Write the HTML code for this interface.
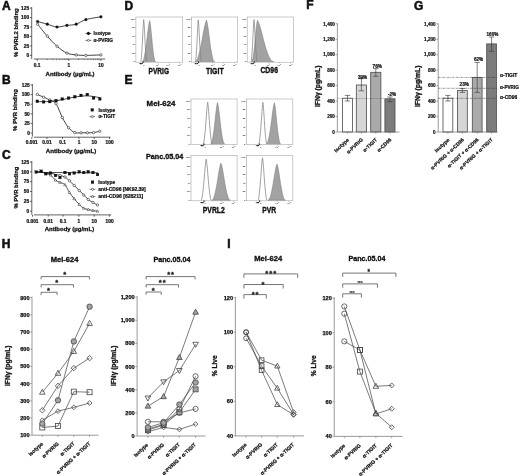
<!DOCTYPE html>
<html lang="en">
<head>
<meta charset="utf-8">
<title>Figure</title>
<style>
html,body{margin:0;padding:0;background:#fff;}
body{width:520px;height:476px;overflow:hidden;}
svg{display:block;font-family:'Liberation Sans', sans-serif;}
</style>
</head>
<body>
<svg width="520" height="476" viewBox="0 0 520 476">
<rect x="0" y="0" width="520" height="476" fill="#ffffff"/>
<text x="2.1" y="9.7" font-size="12" text-anchor="start" font-weight="bold" fill="#111" stroke="#111" stroke-width="0.55">A</text>
<text x="2.1" y="84.2" font-size="12" text-anchor="start" font-weight="bold" fill="#111" stroke="#111" stroke-width="0.55">B</text>
<text x="2" y="158.8" font-size="12" text-anchor="start" font-weight="bold" fill="#111" stroke="#111" stroke-width="0.55">C</text>
<text x="124.4" y="9.6" font-size="12" text-anchor="start" font-weight="bold" fill="#111" stroke="#111" stroke-width="0.55">D</text>
<text x="124.6" y="83.9" font-size="12" text-anchor="start" font-weight="bold" fill="#111" stroke="#111" stroke-width="0.55">E</text>
<text x="306.2" y="9.4" font-size="12" text-anchor="start" font-weight="bold" fill="#111" stroke="#111" stroke-width="0.55">F</text>
<text x="414.1" y="10.1" font-size="12" text-anchor="start" font-weight="bold" fill="#111" stroke="#111" stroke-width="0.55">G</text>
<text x="1.7" y="247.8" font-size="12" text-anchor="start" font-weight="bold" fill="#111" stroke="#111" stroke-width="0.55">H</text>
<text x="227.2" y="247.8" font-size="12" text-anchor="start" font-weight="bold" fill="#111" stroke="#111" stroke-width="0.55">I</text>
<line x1="31.7" y1="7.1" x2="31.7" y2="59" stroke="#222" stroke-width="0.7"/>
<line x1="29.9" y1="55.4" x2="31.7" y2="55.4" stroke="#222" stroke-width="0.7"/>
<text x="29.1" y="57.1" font-size="4.8" text-anchor="end" font-weight="bold" fill="#111" stroke="#111" stroke-width="0.22">0</text>
<line x1="29.9" y1="45.94" x2="31.7" y2="45.94" stroke="#222" stroke-width="0.7"/>
<text x="29.1" y="47.64" font-size="4.8" text-anchor="end" font-weight="bold" fill="#111" stroke="#111" stroke-width="0.22">25</text>
<line x1="29.9" y1="36.48" x2="31.7" y2="36.48" stroke="#222" stroke-width="0.7"/>
<text x="29.1" y="38.18" font-size="4.8" text-anchor="end" font-weight="bold" fill="#111" stroke="#111" stroke-width="0.22">50</text>
<line x1="29.9" y1="27.02" x2="31.7" y2="27.02" stroke="#222" stroke-width="0.7"/>
<text x="29.1" y="28.72" font-size="4.8" text-anchor="end" font-weight="bold" fill="#111" stroke="#111" stroke-width="0.22">75</text>
<line x1="29.9" y1="17.56" x2="31.7" y2="17.56" stroke="#222" stroke-width="0.7"/>
<text x="29.1" y="19.26" font-size="4.8" text-anchor="end" font-weight="bold" fill="#111" stroke="#111" stroke-width="0.22">100</text>
<line x1="29.9" y1="8.1" x2="31.7" y2="8.1" stroke="#222" stroke-width="0.7"/>
<text x="29.1" y="9.8" font-size="4.8" text-anchor="end" font-weight="bold" fill="#111" stroke="#111" stroke-width="0.22">125</text>
<line x1="33.8" y1="59" x2="105.2" y2="59" stroke="#222" stroke-width="0.7"/>
<line x1="37.2" y1="59" x2="37.2" y2="60.8" stroke="#222" stroke-width="0.7"/>
<text x="37.2" y="66.9" font-size="4.8" text-anchor="middle" font-weight="bold" fill="#111" stroke="#111" stroke-width="0.22">0.1</text>
<line x1="68.9" y1="59" x2="68.9" y2="60.8" stroke="#222" stroke-width="0.7"/>
<text x="68.9" y="66.9" font-size="4.8" text-anchor="middle" font-weight="bold" fill="#111" stroke="#111" stroke-width="0.22">1</text>
<line x1="100.9" y1="59" x2="100.9" y2="60.8" stroke="#222" stroke-width="0.7"/>
<text x="100.9" y="66.9" font-size="4.8" text-anchor="middle" font-weight="bold" fill="#111" stroke="#111" stroke-width="0.22">10</text>
<text x="70.1" y="75.7" font-size="6.1" text-anchor="middle" font-weight="bold" fill="#111" stroke="#111" stroke-width="0.27" textLength="49" lengthAdjust="spacingAndGlyphs">Antibody (µg/mL)</text>
<text x="17.7" y="32.75" font-size="5.9" text-anchor="middle" font-weight="bold" fill="#111" stroke="#111" stroke-width="0.27" transform="rotate(-90 17.7 32.75)">% PVRL2 binding</text>
<line x1="47.11" y1="59" x2="47.11" y2="60.1" stroke="#222" stroke-width="0.5"/>
<line x1="52.68" y1="59" x2="52.68" y2="60.1" stroke="#222" stroke-width="0.5"/>
<line x1="56.63" y1="59" x2="56.63" y2="60.1" stroke="#222" stroke-width="0.5"/>
<line x1="59.69" y1="59" x2="59.69" y2="60.1" stroke="#222" stroke-width="0.5"/>
<line x1="62.19" y1="59" x2="62.19" y2="60.1" stroke="#222" stroke-width="0.5"/>
<line x1="64.31" y1="59" x2="64.31" y2="60.1" stroke="#222" stroke-width="0.5"/>
<line x1="66.14" y1="59" x2="66.14" y2="60.1" stroke="#222" stroke-width="0.5"/>
<line x1="67.75" y1="59" x2="67.75" y2="60.1" stroke="#222" stroke-width="0.5"/>
<line x1="78.41" y1="59" x2="78.41" y2="60.1" stroke="#222" stroke-width="0.5"/>
<line x1="83.98" y1="59" x2="83.98" y2="60.1" stroke="#222" stroke-width="0.5"/>
<line x1="87.93" y1="59" x2="87.93" y2="60.1" stroke="#222" stroke-width="0.5"/>
<line x1="90.99" y1="59" x2="90.99" y2="60.1" stroke="#222" stroke-width="0.5"/>
<line x1="93.49" y1="59" x2="93.49" y2="60.1" stroke="#222" stroke-width="0.5"/>
<line x1="95.61" y1="59" x2="95.61" y2="60.1" stroke="#222" stroke-width="0.5"/>
<line x1="97.44" y1="59" x2="97.44" y2="60.1" stroke="#222" stroke-width="0.5"/>
<line x1="99.05" y1="59" x2="99.05" y2="60.1" stroke="#222" stroke-width="0.5"/>
<path d="M37.6,21.5 C39.22,21.95 44.07,23.28 47.3,24.2 C50.53,25.12 53.73,26.8 57,27 C60.27,27.2 63.7,25.87 66.9,25.4 C70.1,24.93 73.03,25.17 76.2,24.2 C79.37,23.23 81.78,20.83 85.9,19.6 C90.02,18.37 98.4,17.27 100.9,16.8" fill="none" stroke="#222" stroke-width="0.85"/>
<path d="M37.6,24.2 C39.22,26.2 44.07,32.53 47.3,36.2 C50.53,39.87 53.73,43.38 57,46.2 C60.27,49.02 63.7,51.65 66.9,53.1 C70.1,54.55 73.03,54.52 76.2,54.9 C79.37,55.28 81.78,55.4 85.9,55.4 C90.02,55.4 98.4,54.98 100.9,54.9" fill="none" stroke="#222" stroke-width="0.85"/>
<circle cx="37.6" cy="24.2" r="1.2" fill="#fff" stroke="#222" stroke-width="0.6"/>
<circle cx="47.3" cy="36.2" r="1.2" fill="#fff" stroke="#222" stroke-width="0.6"/>
<circle cx="57" cy="46.2" r="1.2" fill="#fff" stroke="#222" stroke-width="0.6"/>
<circle cx="66.9" cy="53.1" r="1.2" fill="#fff" stroke="#222" stroke-width="0.6"/>
<circle cx="76.2" cy="54.9" r="1.2" fill="#fff" stroke="#222" stroke-width="0.6"/>
<circle cx="85.9" cy="55.4" r="1.2" fill="#fff" stroke="#222" stroke-width="0.6"/>
<circle cx="100.9" cy="54.9" r="1.2" fill="#fff" stroke="#222" stroke-width="0.6"/>
<circle cx="37.6" cy="21.5" r="1.35" fill="#111" stroke="#111" stroke-width="0.3"/>
<circle cx="47.3" cy="24.2" r="1.35" fill="#111" stroke="#111" stroke-width="0.3"/>
<circle cx="57" cy="27" r="1.35" fill="#111" stroke="#111" stroke-width="0.3"/>
<circle cx="66.9" cy="25.4" r="1.35" fill="#111" stroke="#111" stroke-width="0.3"/>
<circle cx="76.2" cy="24.2" r="1.35" fill="#111" stroke="#111" stroke-width="0.3"/>
<circle cx="85.9" cy="19.6" r="1.35" fill="#111" stroke="#111" stroke-width="0.3"/>
<circle cx="100.9" cy="16.8" r="1.35" fill="#111" stroke="#111" stroke-width="0.3"/>
<line x1="85.6" y1="33.5" x2="91.2" y2="33.5" stroke="#222" stroke-width="0.7"/>
<circle cx="88.4" cy="33.5" r="1.4" fill="#111" stroke="#111" stroke-width="0.3"/>
<text x="93.6" y="35.2" font-size="5" text-anchor="start" font-weight="bold" fill="#111" stroke="#111" stroke-width="0.22" textLength="17" lengthAdjust="spacingAndGlyphs">Isotype</text>
<line x1="85.4" y1="40.4" x2="91.4" y2="40.4" stroke="#222" stroke-width="0.6"/>
<circle cx="88.4" cy="40.4" r="1.05" fill="#fff" stroke="#222" stroke-width="0.55"/>
<text x="93.6" y="42.1" font-size="5" text-anchor="start" font-weight="bold" fill="#111" stroke="#111" stroke-width="0.22" textLength="19.5" lengthAdjust="spacingAndGlyphs">α-PVRIG</text>
<line x1="32.4" y1="84" x2="32.4" y2="136.6" stroke="#222" stroke-width="0.7"/>
<line x1="30.6" y1="133" x2="32.4" y2="133" stroke="#222" stroke-width="0.7"/>
<text x="29.8" y="134.7" font-size="4.8" text-anchor="end" font-weight="bold" fill="#111" stroke="#111" stroke-width="0.22">0</text>
<line x1="30.6" y1="123.4" x2="32.4" y2="123.4" stroke="#222" stroke-width="0.7"/>
<text x="29.8" y="125.1" font-size="4.8" text-anchor="end" font-weight="bold" fill="#111" stroke="#111" stroke-width="0.22">25</text>
<line x1="30.6" y1="113.8" x2="32.4" y2="113.8" stroke="#222" stroke-width="0.7"/>
<text x="29.8" y="115.5" font-size="4.8" text-anchor="end" font-weight="bold" fill="#111" stroke="#111" stroke-width="0.22">50</text>
<line x1="30.6" y1="104.2" x2="32.4" y2="104.2" stroke="#222" stroke-width="0.7"/>
<text x="29.8" y="105.9" font-size="4.8" text-anchor="end" font-weight="bold" fill="#111" stroke="#111" stroke-width="0.22">75</text>
<line x1="30.6" y1="94.6" x2="32.4" y2="94.6" stroke="#222" stroke-width="0.7"/>
<text x="29.8" y="96.3" font-size="4.8" text-anchor="end" font-weight="bold" fill="#111" stroke="#111" stroke-width="0.22">100</text>
<line x1="30.6" y1="85" x2="32.4" y2="85" stroke="#222" stroke-width="0.7"/>
<text x="29.8" y="86.7" font-size="4.8" text-anchor="end" font-weight="bold" fill="#111" stroke="#111" stroke-width="0.22">125</text>
<line x1="33.8" y1="137.2" x2="110.5" y2="137.2" stroke="#222" stroke-width="0.7"/>
<line x1="31.8" y1="137.2" x2="31.8" y2="139" stroke="#222" stroke-width="0.7"/>
<text x="31.8" y="144.3" font-size="4.8" text-anchor="middle" font-weight="bold" fill="#111" stroke="#111" stroke-width="0.22">0.001</text>
<line x1="46.9" y1="137.2" x2="46.9" y2="139" stroke="#222" stroke-width="0.7"/>
<text x="46.9" y="144.3" font-size="4.8" text-anchor="middle" font-weight="bold" fill="#111" stroke="#111" stroke-width="0.22">0.01</text>
<line x1="62.5" y1="137.2" x2="62.5" y2="139" stroke="#222" stroke-width="0.7"/>
<text x="62.5" y="144.3" font-size="4.8" text-anchor="middle" font-weight="bold" fill="#111" stroke="#111" stroke-width="0.22">0.1</text>
<line x1="79" y1="137.2" x2="79" y2="139" stroke="#222" stroke-width="0.7"/>
<text x="79" y="144.3" font-size="4.8" text-anchor="middle" font-weight="bold" fill="#111" stroke="#111" stroke-width="0.22">1</text>
<line x1="94.2" y1="137.2" x2="94.2" y2="139" stroke="#222" stroke-width="0.7"/>
<text x="94.2" y="144.3" font-size="4.8" text-anchor="middle" font-weight="bold" fill="#111" stroke="#111" stroke-width="0.22">10</text>
<line x1="109.6" y1="137.2" x2="109.6" y2="139" stroke="#222" stroke-width="0.7"/>
<text x="109.6" y="144.3" font-size="4.8" text-anchor="middle" font-weight="bold" fill="#111" stroke="#111" stroke-width="0.22">100</text>
<text x="71" y="153" font-size="6.1" text-anchor="middle" font-weight="bold" fill="#111" stroke="#111" stroke-width="0.27" textLength="50.5" lengthAdjust="spacingAndGlyphs">Antibody (µg/mL)</text>
<text x="17.3" y="110" font-size="5.9" text-anchor="middle" font-weight="bold" fill="#111" stroke="#111" stroke-width="0.27" transform="rotate(-90 17.3 110)">% PVR binding</text>
<path d="M37.3,101.7 C39.42,101.65 45.88,101.73 50,101.4 C54.12,101.07 57.83,100.43 62,99.7 C66.17,98.97 71.17,97.63 75,97 C78.83,96.37 82.17,96.02 85,95.9 C87.83,95.78 89.5,96 92,96.3 C94.5,96.6 98.67,97.47 100,97.7" fill="none" stroke="#222" stroke-width="0.85"/>
<path d="M37.3,94.4 C38.34,94.87 41.47,96.27 43.55,97.2 C45.63,98.13 47.72,98.92 49.8,100 C51.88,101.08 53.97,100.78 56.05,103.7 C58.13,106.62 60.22,113.5 62.3,117.5 C64.38,121.5 66.47,125.18 68.55,127.7 C70.63,130.22 72.72,131.75 74.8,132.6 C76.88,133.45 78.97,132.77 81.05,132.8 C83.13,132.83 85.22,132.83 87.3,132.8 C89.38,132.77 91.47,132.87 93.55,132.6 C95.63,132.33 98.76,131.43 99.8,131.2" fill="none" stroke="#222" stroke-width="0.85"/>
<circle cx="37.3" cy="94.4" r="1.2" fill="#fff" stroke="#222" stroke-width="0.6"/>
<circle cx="43.55" cy="97.2" r="1.2" fill="#fff" stroke="#222" stroke-width="0.6"/>
<circle cx="49.8" cy="100" r="1.2" fill="#fff" stroke="#222" stroke-width="0.6"/>
<circle cx="56.05" cy="103.7" r="1.2" fill="#fff" stroke="#222" stroke-width="0.6"/>
<circle cx="62.3" cy="117.5" r="1.2" fill="#fff" stroke="#222" stroke-width="0.6"/>
<circle cx="68.55" cy="127.7" r="1.2" fill="#fff" stroke="#222" stroke-width="0.6"/>
<circle cx="74.8" cy="132.6" r="1.2" fill="#fff" stroke="#222" stroke-width="0.6"/>
<circle cx="81.05" cy="132.8" r="1.2" fill="#fff" stroke="#222" stroke-width="0.6"/>
<circle cx="87.3" cy="132.8" r="1.2" fill="#fff" stroke="#222" stroke-width="0.6"/>
<circle cx="93.55" cy="132.6" r="1.2" fill="#fff" stroke="#222" stroke-width="0.6"/>
<circle cx="99.8" cy="131.2" r="1.2" fill="#fff" stroke="#222" stroke-width="0.6"/>
<rect x="35.9" y="99.9" width="2.8" height="2.8" fill="#111" stroke="#111" stroke-width="0.2"/>
<rect x="42.15" y="100.5" width="2.8" height="2.8" fill="#111" stroke="#111" stroke-width="0.2"/>
<rect x="48.4" y="100.2" width="2.8" height="2.8" fill="#111" stroke="#111" stroke-width="0.2"/>
<rect x="54.65" y="99.2" width="2.8" height="2.8" fill="#111" stroke="#111" stroke-width="0.2"/>
<rect x="60.9" y="97.6" width="2.8" height="2.8" fill="#111" stroke="#111" stroke-width="0.2"/>
<rect x="67.15" y="96.7" width="2.8" height="2.8" fill="#111" stroke="#111" stroke-width="0.2"/>
<rect x="73.4" y="95.3" width="2.8" height="2.8" fill="#111" stroke="#111" stroke-width="0.2"/>
<rect x="79.65" y="94" width="2.8" height="2.8" fill="#111" stroke="#111" stroke-width="0.2"/>
<rect x="85.9" y="93.1" width="2.8" height="2.8" fill="#111" stroke="#111" stroke-width="0.2"/>
<rect x="92.15" y="96.7" width="2.8" height="2.8" fill="#111" stroke="#111" stroke-width="0.2"/>
<rect x="98.4" y="97.5" width="2.8" height="2.8" fill="#111" stroke="#111" stroke-width="0.2"/>
<rect x="90.9" y="108.5" width="2.8" height="2.8" fill="#111" stroke="#111" stroke-width="0.2"/>
<text x="98.4" y="111.6" font-size="5" text-anchor="start" font-weight="bold" fill="#111" stroke="#111" stroke-width="0.22" textLength="16.8" lengthAdjust="spacingAndGlyphs">Isotype</text>
<line x1="89.5" y1="116.6" x2="95.1" y2="116.6" stroke="#222" stroke-width="0.6"/>
<circle cx="92.3" cy="116.6" r="1.05" fill="#fff" stroke="#222" stroke-width="0.55"/>
<text x="98.4" y="118.3" font-size="5" text-anchor="start" font-weight="bold" fill="#111" stroke="#111" stroke-width="0.22" textLength="16.8" lengthAdjust="spacingAndGlyphs">α-TIGIT</text>
<line x1="31.8" y1="161" x2="31.8" y2="214.8" stroke="#222" stroke-width="0.7"/>
<line x1="30" y1="211.2" x2="31.8" y2="211.2" stroke="#222" stroke-width="0.7"/>
<text x="29.2" y="212.9" font-size="4.8" text-anchor="end" font-weight="bold" fill="#111" stroke="#111" stroke-width="0.22">0</text>
<line x1="30" y1="201.36" x2="31.8" y2="201.36" stroke="#222" stroke-width="0.7"/>
<text x="29.2" y="203.06" font-size="4.8" text-anchor="end" font-weight="bold" fill="#111" stroke="#111" stroke-width="0.22">25</text>
<line x1="30" y1="191.52" x2="31.8" y2="191.52" stroke="#222" stroke-width="0.7"/>
<text x="29.2" y="193.22" font-size="4.8" text-anchor="end" font-weight="bold" fill="#111" stroke="#111" stroke-width="0.22">50</text>
<line x1="30" y1="181.68" x2="31.8" y2="181.68" stroke="#222" stroke-width="0.7"/>
<text x="29.2" y="183.38" font-size="4.8" text-anchor="end" font-weight="bold" fill="#111" stroke="#111" stroke-width="0.22">75</text>
<line x1="30" y1="171.84" x2="31.8" y2="171.84" stroke="#222" stroke-width="0.7"/>
<text x="29.2" y="173.54" font-size="4.8" text-anchor="end" font-weight="bold" fill="#111" stroke="#111" stroke-width="0.22">100</text>
<line x1="30" y1="162" x2="31.8" y2="162" stroke="#222" stroke-width="0.7"/>
<text x="29.2" y="163.7" font-size="4.8" text-anchor="end" font-weight="bold" fill="#111" stroke="#111" stroke-width="0.22">125</text>
<line x1="33.8" y1="214.9" x2="111.2" y2="214.9" stroke="#222" stroke-width="0.7"/>
<line x1="32.5" y1="214.9" x2="32.5" y2="216.7" stroke="#222" stroke-width="0.7"/>
<text x="32.5" y="222.6" font-size="4.8" text-anchor="middle" font-weight="bold" fill="#111" stroke="#111" stroke-width="0.22">0.001</text>
<line x1="48.2" y1="214.9" x2="48.2" y2="216.7" stroke="#222" stroke-width="0.7"/>
<text x="48.2" y="222.6" font-size="4.8" text-anchor="middle" font-weight="bold" fill="#111" stroke="#111" stroke-width="0.22">0.01</text>
<line x1="63" y1="214.9" x2="63" y2="216.7" stroke="#222" stroke-width="0.7"/>
<text x="63" y="222.6" font-size="4.8" text-anchor="middle" font-weight="bold" fill="#111" stroke="#111" stroke-width="0.22">0.1</text>
<line x1="78.8" y1="214.9" x2="78.8" y2="216.7" stroke="#222" stroke-width="0.7"/>
<text x="78.8" y="222.6" font-size="4.8" text-anchor="middle" font-weight="bold" fill="#111" stroke="#111" stroke-width="0.22">1</text>
<line x1="94.2" y1="214.9" x2="94.2" y2="216.7" stroke="#222" stroke-width="0.7"/>
<text x="94.2" y="222.6" font-size="4.8" text-anchor="middle" font-weight="bold" fill="#111" stroke="#111" stroke-width="0.22">10</text>
<line x1="109.6" y1="214.9" x2="109.6" y2="216.7" stroke="#222" stroke-width="0.7"/>
<text x="109.6" y="222.6" font-size="4.8" text-anchor="middle" font-weight="bold" fill="#111" stroke="#111" stroke-width="0.22">100</text>
<text x="69.4" y="230.8" font-size="6.1" text-anchor="middle" font-weight="bold" fill="#111" stroke="#111" stroke-width="0.27" textLength="49.5" lengthAdjust="spacingAndGlyphs">Antibody (µg/mL)</text>
<text x="17.6" y="187.6" font-size="5.9" text-anchor="middle" font-weight="bold" fill="#111" stroke="#111" stroke-width="0.27" transform="rotate(-90 17.6 187.6)">% PVR binding</text>
<line x1="36" y1="172.4" x2="98" y2="172.8" stroke="#222" stroke-width="0.8"/>
<path d="M36.25,172.2 C37.08,172.1 39.67,171.38 41.25,171.6 C42.83,171.82 44.21,173.23 45.75,173.5 C47.29,173.77 48.88,173.05 50.5,173.2 C52.12,173.35 53.92,174.02 55.5,174.4 C57.08,174.78 58.42,175.07 60,175.5 C61.58,175.93 63.42,176.12 65,177 C66.58,177.88 67.96,179.33 69.5,180.75 C71.04,182.17 72.62,183.88 74.25,185.5 C75.88,187.12 77.67,188.92 79.25,190.5 C80.83,192.08 82.25,193.5 83.75,195 C85.25,196.5 86.71,198.25 88.25,199.5 C89.79,200.75 91.46,201.58 93,202.5 C94.54,203.42 96.75,204.58 97.5,205" fill="none" stroke="#222" stroke-width="0.8"/>
<path d="M36.25,172.2 C37.08,172.13 39.67,171.57 41.25,171.8 C42.83,172.03 44.21,173.07 45.75,173.6 C47.29,174.13 48.88,173.9 50.5,175 C52.12,176.1 53.92,178.97 55.5,180.2 C57.08,181.43 58.42,181.63 60,182.4 C61.58,183.17 63.42,183.12 65,184.8 C66.58,186.48 67.96,190.18 69.5,192.5 C71.04,194.82 72.62,196.75 74.25,198.75 C75.88,200.75 77.67,202.92 79.25,204.5 C80.83,206.08 82.25,207.42 83.75,208.25 C85.25,209.08 86.71,209.12 88.25,209.5 C89.79,209.88 91.46,210.21 93,210.5 C94.54,210.79 96.75,211.12 97.5,211.25" fill="none" stroke="#222" stroke-width="0.8"/>
<polygon points="50.5,173.6 51.8,175.94 49.2,175.94" fill="#fff" stroke="#222" stroke-width="0.5"/>
<polygon points="55.5,178.8 56.8,181.14 54.2,181.14" fill="#fff" stroke="#222" stroke-width="0.5"/>
<polygon points="60,181 61.3,183.34 58.7,183.34" fill="#fff" stroke="#222" stroke-width="0.5"/>
<polygon points="65,183.4 66.3,185.74 63.7,185.74" fill="#fff" stroke="#222" stroke-width="0.5"/>
<polygon points="69.5,191.1 70.8,193.44 68.2,193.44" fill="#fff" stroke="#222" stroke-width="0.5"/>
<polygon points="74.25,197.35 75.55,199.69 72.95,199.69" fill="#fff" stroke="#222" stroke-width="0.5"/>
<polygon points="79.25,203.1 80.55,205.44 77.95,205.44" fill="#fff" stroke="#222" stroke-width="0.5"/>
<polygon points="83.75,206.85 85.05,209.19 82.45,209.19" fill="#fff" stroke="#222" stroke-width="0.5"/>
<polygon points="88.25,208.1 89.55,210.44 86.95,210.44" fill="#fff" stroke="#222" stroke-width="0.5"/>
<polygon points="93,209.1 94.3,211.44 91.7,211.44" fill="#fff" stroke="#222" stroke-width="0.5"/>
<polygon points="97.5,209.85 98.8,212.19 96.2,212.19" fill="#fff" stroke="#222" stroke-width="0.5"/>
<circle cx="60" cy="175.5" r="1.2" fill="#fff" stroke="#222" stroke-width="0.6"/>
<circle cx="65" cy="177" r="1.2" fill="#fff" stroke="#222" stroke-width="0.6"/>
<circle cx="69.5" cy="180.75" r="1.2" fill="#fff" stroke="#222" stroke-width="0.6"/>
<circle cx="74.25" cy="185.5" r="1.2" fill="#fff" stroke="#222" stroke-width="0.6"/>
<circle cx="79.25" cy="190.5" r="1.2" fill="#fff" stroke="#222" stroke-width="0.6"/>
<circle cx="83.75" cy="195" r="1.2" fill="#fff" stroke="#222" stroke-width="0.6"/>
<circle cx="88.25" cy="199.5" r="1.2" fill="#fff" stroke="#222" stroke-width="0.6"/>
<circle cx="93" cy="202.5" r="1.2" fill="#fff" stroke="#222" stroke-width="0.6"/>
<circle cx="97.5" cy="205" r="1.2" fill="#fff" stroke="#222" stroke-width="0.6"/>
<rect x="34.85" y="170.6" width="2.8" height="2.8" fill="#111" stroke="#111" stroke-width="0.2"/>
<rect x="39.85" y="169.85" width="2.8" height="2.8" fill="#111" stroke="#111" stroke-width="0.2"/>
<rect x="44.35" y="172.35" width="2.8" height="2.8" fill="#111" stroke="#111" stroke-width="0.2"/>
<rect x="49.1" y="171.6" width="2.8" height="2.8" fill="#111" stroke="#111" stroke-width="0.2"/>
<rect x="54.1" y="174.1" width="2.8" height="2.8" fill="#111" stroke="#111" stroke-width="0.2"/>
<rect x="58.6" y="176.1" width="2.8" height="2.8" fill="#111" stroke="#111" stroke-width="0.2"/>
<rect x="63.6" y="171.1" width="2.8" height="2.8" fill="#111" stroke="#111" stroke-width="0.2"/>
<rect x="68.1" y="172.35" width="2.8" height="2.8" fill="#111" stroke="#111" stroke-width="0.2"/>
<rect x="72.85" y="171.6" width="2.8" height="2.8" fill="#111" stroke="#111" stroke-width="0.2"/>
<rect x="77.85" y="170.35" width="2.8" height="2.8" fill="#111" stroke="#111" stroke-width="0.2"/>
<rect x="82.35" y="171.1" width="2.8" height="2.8" fill="#111" stroke="#111" stroke-width="0.2"/>
<rect x="86.85" y="170.35" width="2.8" height="2.8" fill="#111" stroke="#111" stroke-width="0.2"/>
<rect x="91.6" y="171.1" width="2.8" height="2.8" fill="#111" stroke="#111" stroke-width="0.2"/>
<rect x="96.1" y="173.1" width="2.8" height="2.8" fill="#111" stroke="#111" stroke-width="0.2"/>
<rect x="91.1" y="180.8" width="2.8" height="2.8" fill="#111" stroke="#111" stroke-width="0.2"/>
<text x="98.2" y="183.9" font-size="5" text-anchor="start" font-weight="bold" fill="#111" stroke="#111" stroke-width="0.22" textLength="17" lengthAdjust="spacingAndGlyphs">Isotype</text>
<line x1="89.6" y1="189.3" x2="95.4" y2="189.3" stroke="#222" stroke-width="0.6"/>
<circle cx="92.5" cy="189.3" r="1.05" fill="#fff" stroke="#222" stroke-width="0.55"/>
<text x="98.2" y="191" font-size="5" text-anchor="start" font-weight="bold" fill="#111" stroke="#111" stroke-width="0.22" textLength="47.6" lengthAdjust="spacingAndGlyphs">anti-CD96 [NK92.39]</text>
<line x1="89.6" y1="196.4" x2="95.4" y2="196.4" stroke="#222" stroke-width="0.6"/>
<polygon points="92.5,195 93.8,197.34 91.2,197.34" fill="#fff" stroke="#222" stroke-width="0.5"/>
<text x="98.2" y="198.1" font-size="5" text-anchor="start" font-weight="bold" fill="#111" stroke="#111" stroke-width="0.22" textLength="45" lengthAdjust="spacingAndGlyphs">anti-CD96 [628211]</text>
<rect x="135.9" y="17" width="46.8" height="45.2" fill="#fff" stroke="#a8a8a8" stroke-width="0.6"/>
<path d="M142.26,61.51 L142.79,61.34 L143.32,60.74 L143.85,58.73 L144.39,56.43 L144.92,53.75 L145.45,50.63 L145.98,47.02 L146.51,42.95 L147.04,38.54 L147.57,34 L148.11,29.63 L148.64,25.75 L149.17,22.66 L149.7,20.6 L150.12,22.66 L150.54,25.75 L150.96,29.63 L151.38,34 L151.8,38.54 L152.22,42.95 L152.64,47.02 L153.07,50.63 L153.49,53.75 L153.91,56.43 L154.33,58.73 L154.75,60.74 L155.17,61.34 L155.59,61.51 Z" fill="#a2a2a2" stroke="#7a7a7a" stroke-width="0.55" stroke-linejoin="round"/>
<path d="M140.6,61.51 L140.82,61.33 L141.04,60.72 L141.26,58.65 L141.49,56.3 L141.71,53.56 L141.93,50.36 L142.15,46.67 L142.37,42.5 L142.59,37.98 L142.81,33.33 L143.04,28.85 L143.26,24.87 L143.48,21.71 L143.7,19.6 L143.93,21.71 L144.16,24.87 L144.4,28.85 L144.63,33.33 L144.86,37.98 L145.09,42.5 L145.33,46.67 L145.56,50.36 L145.79,53.56 L146.02,56.3 L146.26,58.65 L146.49,60.72 L146.72,61.33 L146.95,61.51" fill="none" stroke="#828282" stroke-width="0.75" stroke-linejoin="round"/>
<line x1="134.9" y1="19" x2="135.9" y2="19" stroke="#888" stroke-width="0.4"/>
<text x="134.7" y="19.8" font-size="2.3" text-anchor="end" font-weight="bold" fill="#333">100</text>
<line x1="134.9" y1="27.52" x2="135.9" y2="27.52" stroke="#888" stroke-width="0.4"/>
<text x="134.7" y="28.32" font-size="2.3" text-anchor="end" font-weight="bold" fill="#333">80</text>
<line x1="134.9" y1="36.04" x2="135.9" y2="36.04" stroke="#888" stroke-width="0.4"/>
<text x="134.7" y="36.84" font-size="2.3" text-anchor="end" font-weight="bold" fill="#333">60</text>
<line x1="134.9" y1="44.56" x2="135.9" y2="44.56" stroke="#888" stroke-width="0.4"/>
<text x="134.7" y="45.36" font-size="2.3" text-anchor="end" font-weight="bold" fill="#333">40</text>
<line x1="134.9" y1="53.08" x2="135.9" y2="53.08" stroke="#888" stroke-width="0.4"/>
<text x="134.7" y="53.88" font-size="2.3" text-anchor="end" font-weight="bold" fill="#333">20</text>
<line x1="134.9" y1="61.6" x2="135.9" y2="61.6" stroke="#888" stroke-width="0.4"/>
<text x="134.7" y="62.4" font-size="2.3" text-anchor="end" font-weight="bold" fill="#333">0</text>
<line x1="143.86" y1="62.2" x2="143.86" y2="63.4" stroke="#888" stroke-width="0.4"/>
<text x="143.86" y="65.8" font-size="2.4" text-anchor="middle" font-weight="bold" fill="#555">0</text>
<line x1="157.19" y1="62.2" x2="157.19" y2="63.4" stroke="#888" stroke-width="0.4"/>
<text x="157.19" y="65.8" font-size="2.4" text-anchor="middle" font-weight="bold" fill="#555">10³</text>
<line x1="168.19" y1="62.2" x2="168.19" y2="63.4" stroke="#888" stroke-width="0.4"/>
<text x="168.19" y="65.8" font-size="2.4" text-anchor="middle" font-weight="bold" fill="#555">10⁴</text>
<line x1="179.66" y1="62.2" x2="179.66" y2="63.4" stroke="#888" stroke-width="0.4"/>
<text x="179.66" y="65.8" font-size="2.4" text-anchor="middle" font-weight="bold" fill="#555">10⁵</text>
<text x="141.28" y="64.1" font-size="2.4" text-anchor="middle" font-weight="bold" fill="#111" stroke="#111" stroke-width="0.25">-10³</text>
<rect x="191.4" y="17" width="46.3" height="45.2" fill="#fff" stroke="#a8a8a8" stroke-width="0.6"/>
<path d="M195.03,61.51 L195.85,61.34 L196.67,60.73 L197.49,58.7 L198.31,56.37 L199.13,53.68 L199.95,50.52 L200.76,46.88 L201.58,42.77 L202.4,38.32 L203.22,33.73 L204.04,29.31 L204.86,25.4 L205.68,22.28 L206.5,20.2 L207.08,22.28 L207.65,25.4 L208.23,29.31 L208.8,33.73 L209.38,38.32 L209.95,42.77 L210.53,46.88 L211.11,50.52 L211.68,53.68 L212.26,56.37 L212.83,58.7 L213.41,60.73 L213.98,61.34 L214.56,61.51 Z" fill="#a2a2a2" stroke="#7a7a7a" stroke-width="0.55" stroke-linejoin="round"/>
<path d="M195.2,61.51 L195.42,61.33 L195.64,60.73 L195.86,58.67 L196.09,56.32 L196.31,53.6 L196.53,50.42 L196.75,46.74 L196.97,42.59 L197.19,38.09 L197.41,33.46 L197.64,29 L197.86,25.05 L198.08,21.9 L198.3,19.8 L198.53,21.9 L198.77,25.05 L199,29 L199.23,33.46 L199.46,38.09 L199.7,42.59 L199.93,46.74 L200.16,50.42 L200.39,53.6 L200.62,56.32 L200.86,58.67 L201.09,60.73 L201.32,61.33 L201.56,61.51" fill="none" stroke="#828282" stroke-width="0.75" stroke-linejoin="round"/>
<line x1="190.4" y1="19" x2="191.4" y2="19" stroke="#888" stroke-width="0.4"/>
<text x="190.2" y="19.8" font-size="2.3" text-anchor="end" font-weight="bold" fill="#333">100</text>
<line x1="190.4" y1="27.52" x2="191.4" y2="27.52" stroke="#888" stroke-width="0.4"/>
<text x="190.2" y="28.32" font-size="2.3" text-anchor="end" font-weight="bold" fill="#333">80</text>
<line x1="190.4" y1="36.04" x2="191.4" y2="36.04" stroke="#888" stroke-width="0.4"/>
<text x="190.2" y="36.84" font-size="2.3" text-anchor="end" font-weight="bold" fill="#333">60</text>
<line x1="190.4" y1="44.56" x2="191.4" y2="44.56" stroke="#888" stroke-width="0.4"/>
<text x="190.2" y="45.36" font-size="2.3" text-anchor="end" font-weight="bold" fill="#333">40</text>
<line x1="190.4" y1="53.08" x2="191.4" y2="53.08" stroke="#888" stroke-width="0.4"/>
<text x="190.2" y="53.88" font-size="2.3" text-anchor="end" font-weight="bold" fill="#333">20</text>
<line x1="190.4" y1="61.6" x2="191.4" y2="61.6" stroke="#888" stroke-width="0.4"/>
<text x="190.2" y="62.4" font-size="2.3" text-anchor="end" font-weight="bold" fill="#333">0</text>
<line x1="199.27" y1="62.2" x2="199.27" y2="63.4" stroke="#888" stroke-width="0.4"/>
<text x="199.27" y="65.8" font-size="2.4" text-anchor="middle" font-weight="bold" fill="#555">0</text>
<line x1="212.47" y1="62.2" x2="212.47" y2="63.4" stroke="#888" stroke-width="0.4"/>
<text x="212.47" y="65.8" font-size="2.4" text-anchor="middle" font-weight="bold" fill="#555">10³</text>
<line x1="223.35" y1="62.2" x2="223.35" y2="63.4" stroke="#888" stroke-width="0.4"/>
<text x="223.35" y="65.8" font-size="2.4" text-anchor="middle" font-weight="bold" fill="#555">10⁴</text>
<line x1="234.69" y1="62.2" x2="234.69" y2="63.4" stroke="#888" stroke-width="0.4"/>
<text x="234.69" y="65.8" font-size="2.4" text-anchor="middle" font-weight="bold" fill="#555">10⁵</text>
<text x="196.72" y="64.1" font-size="2.4" text-anchor="middle" font-weight="bold" fill="#111" stroke="#111" stroke-width="0.25">-10³</text>
<rect x="247.2" y="17" width="46.4" height="45.2" fill="#fff" stroke="#a8a8a8" stroke-width="0.6"/>
<path d="M251.51,61.51 L251.93,61.34 L252.35,60.74 L252.77,58.71 L253.19,56.4 L253.61,53.71 L254.03,50.58 L254.45,46.95 L254.88,42.86 L255.3,38.43 L255.72,33.87 L256.14,29.47 L256.56,25.57 L256.98,22.47 L257.4,20.4 L258.55,22.47 L259.7,25.57 L260.85,29.47 L262.01,33.87 L263.16,38.43 L264.31,42.86 L265.46,46.95 L266.61,50.58 L267.76,53.71 L268.91,56.4 L270.07,58.71 L271.22,60.74 L272.37,61.34 L273.52,61.51 Z" fill="#a2a2a2" stroke="#7a7a7a" stroke-width="0.55" stroke-linejoin="round"/>
<path d="M250.9,61.51 L251.12,61.33 L251.34,60.72 L251.56,58.65 L251.79,56.3 L252.01,53.56 L252.23,50.36 L252.45,46.67 L252.67,42.5 L252.89,37.98 L253.11,33.33 L253.34,28.85 L253.56,24.87 L253.78,21.71 L254,19.6 L254.23,21.71 L254.47,24.87 L254.7,28.85 L254.93,33.33 L255.16,37.98 L255.4,42.5 L255.63,46.67 L255.86,50.36 L256.09,53.56 L256.32,56.3 L256.56,58.65 L256.79,60.72 L257.02,61.33 L257.25,61.51" fill="none" stroke="#828282" stroke-width="0.75" stroke-linejoin="round"/>
<line x1="246.2" y1="19" x2="247.2" y2="19" stroke="#888" stroke-width="0.4"/>
<text x="246" y="19.8" font-size="2.3" text-anchor="end" font-weight="bold" fill="#333">100</text>
<line x1="246.2" y1="27.52" x2="247.2" y2="27.52" stroke="#888" stroke-width="0.4"/>
<text x="246" y="28.32" font-size="2.3" text-anchor="end" font-weight="bold" fill="#333">80</text>
<line x1="246.2" y1="36.04" x2="247.2" y2="36.04" stroke="#888" stroke-width="0.4"/>
<text x="246" y="36.84" font-size="2.3" text-anchor="end" font-weight="bold" fill="#333">60</text>
<line x1="246.2" y1="44.56" x2="247.2" y2="44.56" stroke="#888" stroke-width="0.4"/>
<text x="246" y="45.36" font-size="2.3" text-anchor="end" font-weight="bold" fill="#333">40</text>
<line x1="246.2" y1="53.08" x2="247.2" y2="53.08" stroke="#888" stroke-width="0.4"/>
<text x="246" y="53.88" font-size="2.3" text-anchor="end" font-weight="bold" fill="#333">20</text>
<line x1="246.2" y1="61.6" x2="247.2" y2="61.6" stroke="#888" stroke-width="0.4"/>
<text x="246" y="62.4" font-size="2.3" text-anchor="end" font-weight="bold" fill="#333">0</text>
<line x1="255.09" y1="62.2" x2="255.09" y2="63.4" stroke="#888" stroke-width="0.4"/>
<text x="255.09" y="65.8" font-size="2.4" text-anchor="middle" font-weight="bold" fill="#555">0</text>
<line x1="268.31" y1="62.2" x2="268.31" y2="63.4" stroke="#888" stroke-width="0.4"/>
<text x="268.31" y="65.8" font-size="2.4" text-anchor="middle" font-weight="bold" fill="#555">10³</text>
<line x1="279.22" y1="62.2" x2="279.22" y2="63.4" stroke="#888" stroke-width="0.4"/>
<text x="279.22" y="65.8" font-size="2.4" text-anchor="middle" font-weight="bold" fill="#555">10⁴</text>
<line x1="290.58" y1="62.2" x2="290.58" y2="63.4" stroke="#888" stroke-width="0.4"/>
<text x="290.58" y="65.8" font-size="2.4" text-anchor="middle" font-weight="bold" fill="#555">10⁵</text>
<text x="252.54" y="64.1" font-size="2.4" text-anchor="middle" font-weight="bold" fill="#111" stroke="#111" stroke-width="0.25">-10³</text>
<text x="158.8" y="73.7" font-size="8.3" text-anchor="middle" font-weight="bold" fill="#111" stroke="#111" stroke-width="0.37" textLength="20.4" lengthAdjust="spacingAndGlyphs">PVRIG</text>
<text x="214.8" y="73.8" font-size="8.3" text-anchor="middle" font-weight="bold" fill="#111" stroke="#111" stroke-width="0.37" textLength="17.6" lengthAdjust="spacingAndGlyphs">TIGIT</text>
<text x="269.2" y="73.4" font-size="8.3" text-anchor="middle" font-weight="bold" fill="#111" stroke="#111" stroke-width="0.37" textLength="17.6" lengthAdjust="spacingAndGlyphs">CD96</text>
<rect x="191" y="99" width="46.1" height="45.5" fill="#fff" stroke="#a8a8a8" stroke-width="0.6"/>
<path d="M210.68,143.81 L211.17,143.64 L211.65,143.04 L212.14,141 L212.63,138.69 L213.12,135.99 L213.6,132.85 L214.09,129.22 L214.58,125.12 L215.06,120.67 L215.55,116.1 L216.04,111.69 L216.53,107.78 L217.01,104.68 L217.5,102.6 L218.01,104.68 L218.52,107.78 L219.03,111.69 L219.54,116.1 L220.05,120.67 L220.56,125.12 L221.06,129.22 L221.57,132.85 L222.08,135.99 L222.59,138.69 L223.1,141 L223.61,143.04 L224.12,143.64 L224.63,143.81 Z" fill="#a2a2a2" stroke="#7a7a7a" stroke-width="0.55" stroke-linejoin="round"/>
<path d="M203.05,143.81 L203.38,143.64 L203.71,143.03 L204.05,140.99 L204.38,138.66 L204.71,135.96 L205.04,132.8 L205.38,129.14 L205.71,125.03 L206.04,120.56 L206.37,115.96 L206.7,111.54 L207.04,107.61 L207.37,104.49 L207.7,102.4 L208.03,104.49 L208.36,107.61 L208.7,111.54 L209.03,115.96 L209.36,120.56 L209.69,125.03 L210.02,129.14 L210.36,132.8 L210.69,135.96 L211.02,138.66 L211.35,140.99 L211.69,143.03 L212.02,143.64 L212.35,143.81" fill="none" stroke="#828282" stroke-width="0.75" stroke-linejoin="round"/>
<line x1="190" y1="101" x2="191" y2="101" stroke="#888" stroke-width="0.4"/>
<text x="189.8" y="101.8" font-size="2.3" text-anchor="end" font-weight="bold" fill="#333">100</text>
<line x1="190" y1="109.58" x2="191" y2="109.58" stroke="#888" stroke-width="0.4"/>
<text x="189.8" y="110.38" font-size="2.3" text-anchor="end" font-weight="bold" fill="#333">80</text>
<line x1="190" y1="118.16" x2="191" y2="118.16" stroke="#888" stroke-width="0.4"/>
<text x="189.8" y="118.96" font-size="2.3" text-anchor="end" font-weight="bold" fill="#333">60</text>
<line x1="190" y1="126.74" x2="191" y2="126.74" stroke="#888" stroke-width="0.4"/>
<text x="189.8" y="127.54" font-size="2.3" text-anchor="end" font-weight="bold" fill="#333">40</text>
<line x1="190" y1="135.32" x2="191" y2="135.32" stroke="#888" stroke-width="0.4"/>
<text x="189.8" y="136.12" font-size="2.3" text-anchor="end" font-weight="bold" fill="#333">20</text>
<line x1="190" y1="143.9" x2="191" y2="143.9" stroke="#888" stroke-width="0.4"/>
<text x="189.8" y="144.7" font-size="2.3" text-anchor="end" font-weight="bold" fill="#333">0</text>
<line x1="205.29" y1="144.5" x2="205.29" y2="145.7" stroke="#888" stroke-width="0.4"/>
<text x="205.29" y="148.1" font-size="2.4" text-anchor="middle" font-weight="bold" fill="#555">0</text>
<line x1="221.66" y1="144.5" x2="221.66" y2="145.7" stroke="#888" stroke-width="0.4"/>
<text x="221.66" y="148.1" font-size="2.4" text-anchor="middle" font-weight="bold" fill="#555">10⁴</text>
<line x1="233.41" y1="144.5" x2="233.41" y2="145.7" stroke="#888" stroke-width="0.4"/>
<text x="233.41" y="148.1" font-size="2.4" text-anchor="middle" font-weight="bold" fill="#555">10⁵</text>
<text x="202.29" y="146.4" font-size="2.4" text-anchor="middle" font-weight="bold" fill="#111" stroke="#111" stroke-width="0.25">-10³</text>
<rect x="246.4" y="99" width="46.4" height="45.5" fill="#fff" stroke="#a8a8a8" stroke-width="0.6"/>
<path d="M266.34,143.81 L266.92,143.64 L267.49,143.04 L268.07,141.02 L268.64,138.71 L269.22,136.03 L269.79,132.9 L270.37,129.29 L270.95,125.21 L271.52,120.79 L272.1,116.23 L272.67,111.85 L273.25,107.96 L273.82,104.87 L274.4,102.8 L274.84,104.87 L275.29,107.96 L275.73,111.85 L276.17,116.23 L276.61,120.79 L277.06,125.21 L277.5,129.29 L277.94,132.9 L278.39,136.03 L278.83,138.71 L279.27,141.02 L279.71,143.04 L280.16,143.64 L280.6,143.81 Z" fill="#a2a2a2" stroke="#7a7a7a" stroke-width="0.55" stroke-linejoin="round"/>
<path d="M258.56,143.81 L258.87,143.64 L259.18,143.03 L259.49,140.99 L259.8,138.66 L260.11,135.96 L260.42,132.8 L260.73,129.14 L261.04,125.03 L261.35,120.56 L261.66,115.96 L261.97,111.54 L262.28,107.61 L262.59,104.49 L262.9,102.4 L263.19,104.49 L263.48,107.61 L263.76,111.54 L264.05,115.96 L264.34,120.56 L264.63,125.03 L264.91,129.14 L265.2,132.8 L265.49,135.96 L265.78,138.66 L266.07,140.99 L266.35,143.03 L266.64,143.64 L266.93,143.81" fill="none" stroke="#828282" stroke-width="0.75" stroke-linejoin="round"/>
<line x1="245.4" y1="101" x2="246.4" y2="101" stroke="#888" stroke-width="0.4"/>
<text x="245.2" y="101.8" font-size="2.3" text-anchor="end" font-weight="bold" fill="#333">100</text>
<line x1="245.4" y1="109.58" x2="246.4" y2="109.58" stroke="#888" stroke-width="0.4"/>
<text x="245.2" y="110.38" font-size="2.3" text-anchor="end" font-weight="bold" fill="#333">80</text>
<line x1="245.4" y1="118.16" x2="246.4" y2="118.16" stroke="#888" stroke-width="0.4"/>
<text x="245.2" y="118.96" font-size="2.3" text-anchor="end" font-weight="bold" fill="#333">60</text>
<line x1="245.4" y1="126.74" x2="246.4" y2="126.74" stroke="#888" stroke-width="0.4"/>
<text x="245.2" y="127.54" font-size="2.3" text-anchor="end" font-weight="bold" fill="#333">40</text>
<line x1="245.4" y1="135.32" x2="246.4" y2="135.32" stroke="#888" stroke-width="0.4"/>
<text x="245.2" y="136.12" font-size="2.3" text-anchor="end" font-weight="bold" fill="#333">20</text>
<line x1="245.4" y1="143.9" x2="246.4" y2="143.9" stroke="#888" stroke-width="0.4"/>
<text x="245.2" y="144.7" font-size="2.3" text-anchor="end" font-weight="bold" fill="#333">0</text>
<line x1="260.78" y1="144.5" x2="260.78" y2="145.7" stroke="#888" stroke-width="0.4"/>
<text x="260.78" y="148.1" font-size="2.4" text-anchor="middle" font-weight="bold" fill="#555">0</text>
<line x1="277.26" y1="144.5" x2="277.26" y2="145.7" stroke="#888" stroke-width="0.4"/>
<text x="277.26" y="148.1" font-size="2.4" text-anchor="middle" font-weight="bold" fill="#555">10⁴</text>
<line x1="289.09" y1="144.5" x2="289.09" y2="145.7" stroke="#888" stroke-width="0.4"/>
<text x="289.09" y="148.1" font-size="2.4" text-anchor="middle" font-weight="bold" fill="#555">10⁵</text>
<text x="257.77" y="146.4" font-size="2.4" text-anchor="middle" font-weight="bold" fill="#111" stroke="#111" stroke-width="0.25">-10³</text>
<rect x="191" y="155.4" width="46.1" height="45.4" fill="#fff" stroke="#a8a8a8" stroke-width="0.6"/>
<path d="M211.91,200.13 L212.55,199.98 L213.19,199.44 L213.84,197.62 L214.48,195.54 L215.12,193.13 L215.76,190.31 L216.41,187.05 L217.05,183.38 L217.69,179.4 L218.33,175.3 L218.97,171.35 L219.62,167.84 L220.26,165.06 L220.9,163.2 L221.56,165.06 L222.23,167.84 L222.89,171.35 L223.56,175.3 L224.22,179.4 L224.89,183.38 L225.55,187.05 L226.21,190.31 L226.88,193.13 L227.54,195.54 L228.21,197.62 L228.87,199.44 L229.54,199.98 L230.2,200.13 Z" fill="#a2a2a2" stroke="#7a7a7a" stroke-width="0.55" stroke-linejoin="round"/>
<path d="M200.93,200.11 L201.31,199.94 L201.68,199.34 L202.06,197.33 L202.44,195.03 L202.81,192.35 L203.19,189.23 L203.56,185.62 L203.94,181.55 L204.32,177.14 L204.69,172.6 L205.07,168.23 L205.45,164.35 L205.82,161.26 L206.2,159.2 L206.58,161.26 L206.95,164.35 L207.33,168.23 L207.71,172.6 L208.08,177.14 L208.46,181.55 L208.83,185.62 L209.21,189.23 L209.59,192.35 L209.96,195.03 L210.34,197.33 L210.72,199.34 L211.09,199.94 L211.47,200.11" fill="none" stroke="#828282" stroke-width="0.75" stroke-linejoin="round"/>
<line x1="190" y1="157.4" x2="191" y2="157.4" stroke="#888" stroke-width="0.4"/>
<text x="189.8" y="158.2" font-size="2.3" text-anchor="end" font-weight="bold" fill="#333">100</text>
<line x1="190" y1="165.96" x2="191" y2="165.96" stroke="#888" stroke-width="0.4"/>
<text x="189.8" y="166.76" font-size="2.3" text-anchor="end" font-weight="bold" fill="#333">80</text>
<line x1="190" y1="174.52" x2="191" y2="174.52" stroke="#888" stroke-width="0.4"/>
<text x="189.8" y="175.32" font-size="2.3" text-anchor="end" font-weight="bold" fill="#333">60</text>
<line x1="190" y1="183.08" x2="191" y2="183.08" stroke="#888" stroke-width="0.4"/>
<text x="189.8" y="183.88" font-size="2.3" text-anchor="end" font-weight="bold" fill="#333">40</text>
<line x1="190" y1="191.64" x2="191" y2="191.64" stroke="#888" stroke-width="0.4"/>
<text x="189.8" y="192.44" font-size="2.3" text-anchor="end" font-weight="bold" fill="#333">20</text>
<line x1="190" y1="200.2" x2="191" y2="200.2" stroke="#888" stroke-width="0.4"/>
<text x="189.8" y="201" font-size="2.3" text-anchor="end" font-weight="bold" fill="#333">0</text>
<line x1="205.29" y1="200.8" x2="205.29" y2="202" stroke="#888" stroke-width="0.4"/>
<text x="205.29" y="204.4" font-size="2.4" text-anchor="middle" font-weight="bold" fill="#555">0</text>
<line x1="221.66" y1="200.8" x2="221.66" y2="202" stroke="#888" stroke-width="0.4"/>
<text x="221.66" y="204.4" font-size="2.4" text-anchor="middle" font-weight="bold" fill="#555">10⁴</text>
<line x1="233.41" y1="200.8" x2="233.41" y2="202" stroke="#888" stroke-width="0.4"/>
<text x="233.41" y="204.4" font-size="2.4" text-anchor="middle" font-weight="bold" fill="#555">10⁵</text>
<text x="202.29" y="202.7" font-size="2.4" text-anchor="middle" font-weight="bold" fill="#111" stroke="#111" stroke-width="0.25">-10³</text>
<rect x="246.4" y="155.4" width="46.4" height="45.4" fill="#fff" stroke="#a8a8a8" stroke-width="0.6"/>
<path d="M268.01,200.14 L268.65,199.98 L269.29,199.46 L269.94,197.67 L270.58,195.64 L271.22,193.28 L271.86,190.52 L272.5,187.34 L273.15,183.74 L273.79,179.85 L274.43,175.84 L275.07,171.97 L275.72,168.54 L276.36,165.82 L277,164 L277.6,165.82 L278.2,168.54 L278.79,171.97 L279.39,175.84 L279.99,179.85 L280.59,183.74 L281.19,187.34 L281.78,190.52 L282.38,193.28 L282.98,195.64 L283.58,197.67 L284.17,199.46 L284.77,199.98 L285.37,200.14 Z" fill="#a2a2a2" stroke="#7a7a7a" stroke-width="0.55" stroke-linejoin="round"/>
<path d="M257.85,200.11 L258.18,199.93 L258.51,199.31 L258.85,197.22 L259.18,194.85 L259.51,192.08 L259.84,188.85 L260.18,185.12 L260.51,180.91 L260.84,176.35 L261.17,171.66 L261.5,167.13 L261.84,163.12 L262.17,159.93 L262.5,157.8 L262.83,159.93 L263.16,163.12 L263.5,167.13 L263.83,171.66 L264.16,176.35 L264.49,180.91 L264.82,185.12 L265.16,188.85 L265.49,192.08 L265.82,194.85 L266.15,197.22 L266.49,199.31 L266.82,199.93 L267.15,200.11" fill="none" stroke="#828282" stroke-width="0.75" stroke-linejoin="round"/>
<line x1="245.4" y1="157.4" x2="246.4" y2="157.4" stroke="#888" stroke-width="0.4"/>
<text x="245.2" y="158.2" font-size="2.3" text-anchor="end" font-weight="bold" fill="#333">100</text>
<line x1="245.4" y1="165.96" x2="246.4" y2="165.96" stroke="#888" stroke-width="0.4"/>
<text x="245.2" y="166.76" font-size="2.3" text-anchor="end" font-weight="bold" fill="#333">80</text>
<line x1="245.4" y1="174.52" x2="246.4" y2="174.52" stroke="#888" stroke-width="0.4"/>
<text x="245.2" y="175.32" font-size="2.3" text-anchor="end" font-weight="bold" fill="#333">60</text>
<line x1="245.4" y1="183.08" x2="246.4" y2="183.08" stroke="#888" stroke-width="0.4"/>
<text x="245.2" y="183.88" font-size="2.3" text-anchor="end" font-weight="bold" fill="#333">40</text>
<line x1="245.4" y1="191.64" x2="246.4" y2="191.64" stroke="#888" stroke-width="0.4"/>
<text x="245.2" y="192.44" font-size="2.3" text-anchor="end" font-weight="bold" fill="#333">20</text>
<line x1="245.4" y1="200.2" x2="246.4" y2="200.2" stroke="#888" stroke-width="0.4"/>
<text x="245.2" y="201" font-size="2.3" text-anchor="end" font-weight="bold" fill="#333">0</text>
<line x1="260.78" y1="200.8" x2="260.78" y2="202" stroke="#888" stroke-width="0.4"/>
<text x="260.78" y="204.4" font-size="2.4" text-anchor="middle" font-weight="bold" fill="#555">0</text>
<line x1="277.26" y1="200.8" x2="277.26" y2="202" stroke="#888" stroke-width="0.4"/>
<text x="277.26" y="204.4" font-size="2.4" text-anchor="middle" font-weight="bold" fill="#555">10⁴</text>
<line x1="289.09" y1="200.8" x2="289.09" y2="202" stroke="#888" stroke-width="0.4"/>
<text x="289.09" y="204.4" font-size="2.4" text-anchor="middle" font-weight="bold" fill="#555">10⁵</text>
<text x="257.77" y="202.7" font-size="2.4" text-anchor="middle" font-weight="bold" fill="#111" stroke="#111" stroke-width="0.25">-10³</text>
<text x="146.6" y="105.9" font-size="8" text-anchor="start" font-weight="bold" fill="#111" stroke="#111" stroke-width="0.36" textLength="28.8" lengthAdjust="spacingAndGlyphs">Mel-624</text>
<text x="146" y="158.7" font-size="8" text-anchor="start" font-weight="bold" fill="#111" stroke="#111" stroke-width="0.36" textLength="37.2" lengthAdjust="spacingAndGlyphs">Panc.05.04</text>
<text x="213.8" y="212.9" font-size="8.3" text-anchor="middle" font-weight="bold" fill="#111" stroke="#111" stroke-width="0.37" textLength="22" lengthAdjust="spacingAndGlyphs">PVRL2</text>
<text x="269.2" y="212.9" font-size="8.3" text-anchor="middle" font-weight="bold" fill="#111" stroke="#111" stroke-width="0.37" textLength="13.8" lengthAdjust="spacingAndGlyphs">PVR</text>
<line x1="337.4" y1="23.2" x2="337.4" y2="132" stroke="#707070" stroke-width="0.7"/>
<line x1="335.6" y1="132" x2="337.4" y2="132" stroke="#707070" stroke-width="0.6"/>
<text x="334.8" y="133.65" font-size="4.6" text-anchor="end" font-weight="bold" fill="#111" stroke="#111" stroke-width="0.21">0</text>
<line x1="335.6" y1="116.55" x2="337.4" y2="116.55" stroke="#707070" stroke-width="0.6"/>
<text x="334.8" y="118.2" font-size="4.6" text-anchor="end" font-weight="bold" fill="#111" stroke="#111" stroke-width="0.21">200</text>
<line x1="335.6" y1="101.1" x2="337.4" y2="101.1" stroke="#707070" stroke-width="0.6"/>
<text x="334.8" y="102.75" font-size="4.6" text-anchor="end" font-weight="bold" fill="#111" stroke="#111" stroke-width="0.21">400</text>
<line x1="335.6" y1="85.65" x2="337.4" y2="85.65" stroke="#707070" stroke-width="0.6"/>
<text x="334.8" y="87.3" font-size="4.6" text-anchor="end" font-weight="bold" fill="#111" stroke="#111" stroke-width="0.21">600</text>
<line x1="335.6" y1="70.2" x2="337.4" y2="70.2" stroke="#707070" stroke-width="0.6"/>
<text x="334.8" y="71.85" font-size="4.6" text-anchor="end" font-weight="bold" fill="#111" stroke="#111" stroke-width="0.21">800</text>
<line x1="335.6" y1="54.75" x2="337.4" y2="54.75" stroke="#707070" stroke-width="0.6"/>
<text x="334.8" y="56.4" font-size="4.6" text-anchor="end" font-weight="bold" fill="#111" stroke="#111" stroke-width="0.21">1,000</text>
<line x1="335.6" y1="39.3" x2="337.4" y2="39.3" stroke="#707070" stroke-width="0.6"/>
<text x="334.8" y="40.95" font-size="4.6" text-anchor="end" font-weight="bold" fill="#111" stroke="#111" stroke-width="0.21">1,200</text>
<line x1="335.6" y1="23.85" x2="337.4" y2="23.85" stroke="#707070" stroke-width="0.6"/>
<text x="334.8" y="25.5" font-size="4.6" text-anchor="end" font-weight="bold" fill="#111" stroke="#111" stroke-width="0.21">1,400</text>
<text x="320.2" y="86.3" font-size="6.6" text-anchor="middle" font-weight="bold" fill="#111" stroke="#111" stroke-width="0.3" transform="rotate(-90 320.2 86.3)" textLength="41.5" lengthAdjust="spacingAndGlyphs">IFNγ (pg/mL)</text>
<rect x="342.6" y="98.2" width="9.8" height="33.8" fill="#ffffff" stroke="#4a4a4a" stroke-width="0.8"/>
<line x1="347.5" y1="95.4" x2="347.5" y2="101" stroke="#3c3c3c" stroke-width="0.65"/>
<line x1="344.8" y1="95.4" x2="350.2" y2="95.4" stroke="#3c3c3c" stroke-width="0.65"/>
<line x1="344.8" y1="101" x2="350.2" y2="101" stroke="#3c3c3c" stroke-width="0.65"/>
<line x1="347.5" y1="132" x2="347.5" y2="133.8" stroke="#707070" stroke-width="0.6"/>
<rect x="356.3" y="85" width="10.2" height="47" fill="#d6d6d6" stroke="#4a4a4a" stroke-width="0.8"/>
<line x1="361.4" y1="78.6" x2="361.4" y2="90.8" stroke="#3c3c3c" stroke-width="0.65"/>
<line x1="358.7" y1="78.6" x2="364.1" y2="78.6" stroke="#3c3c3c" stroke-width="0.65"/>
<line x1="358.7" y1="90.8" x2="364.1" y2="90.8" stroke="#3c3c3c" stroke-width="0.65"/>
<line x1="361.4" y1="132" x2="361.4" y2="133.8" stroke="#707070" stroke-width="0.6"/>
<rect x="370.7" y="72.3" width="10.2" height="59.7" fill="#aaaaaa" stroke="#4a4a4a" stroke-width="0.8"/>
<line x1="375.8" y1="68.6" x2="375.8" y2="76.3" stroke="#3c3c3c" stroke-width="0.65"/>
<line x1="373.1" y1="68.6" x2="378.5" y2="68.6" stroke="#3c3c3c" stroke-width="0.65"/>
<line x1="373.1" y1="76.3" x2="378.5" y2="76.3" stroke="#3c3c3c" stroke-width="0.65"/>
<line x1="375.8" y1="132" x2="375.8" y2="133.8" stroke="#707070" stroke-width="0.6"/>
<rect x="384.9" y="98.9" width="10.1" height="33.1" fill="#7c7c7c" stroke="#4a4a4a" stroke-width="0.8"/>
<line x1="389.95" y1="97" x2="389.95" y2="101.7" stroke="#3c3c3c" stroke-width="0.65"/>
<line x1="387.25" y1="97" x2="392.65" y2="97" stroke="#3c3c3c" stroke-width="0.65"/>
<line x1="387.25" y1="101.7" x2="392.65" y2="101.7" stroke="#3c3c3c" stroke-width="0.65"/>
<line x1="389.95" y1="132" x2="389.95" y2="133.8" stroke="#707070" stroke-width="0.6"/>
<line x1="337.4" y1="132" x2="399.4" y2="132" stroke="#707070" stroke-width="0.7"/>
<line x1="337.4" y1="98.5" x2="395.5" y2="98.5" stroke="#555" stroke-width="0.5" stroke-dasharray="1.1 0.9"/>
<text x="362.6" y="78.6" font-size="4.6" text-anchor="middle" font-weight="bold" fill="#111" stroke="#111" stroke-width="0.21">39%</text>
<text x="377.2" y="68.2" font-size="4.6" text-anchor="middle" font-weight="bold" fill="#111" stroke="#111" stroke-width="0.21">76%</text>
<text x="392" y="95.6" font-size="4.6" text-anchor="middle" font-weight="bold" fill="#111" stroke="#111" stroke-width="0.21">-2%</text>
<text x="349.4" y="140.2" font-size="5" text-anchor="end" font-weight="bold" fill="#111" stroke="#111" stroke-width="0.22" transform="rotate(-43 349.4 140.2)" textLength="18.4" lengthAdjust="spacingAndGlyphs">Isotype</text>
<text x="363.4" y="140.2" font-size="5" text-anchor="end" font-weight="bold" fill="#111" stroke="#111" stroke-width="0.22" transform="rotate(-43 363.4 140.2)">α-PVRIG</text>
<text x="377.6" y="140.2" font-size="5" text-anchor="end" font-weight="bold" fill="#111" stroke="#111" stroke-width="0.22" transform="rotate(-43 377.6 140.2)">α-TIGIT</text>
<text x="391.8" y="140.2" font-size="5" text-anchor="end" font-weight="bold" fill="#111" stroke="#111" stroke-width="0.22" transform="rotate(-43 391.8 140.2)">α-CD96</text>
<line x1="438.2" y1="23.2" x2="438.2" y2="132" stroke="#707070" stroke-width="0.7"/>
<line x1="436.4" y1="132" x2="438.2" y2="132" stroke="#707070" stroke-width="0.6"/>
<text x="435.6" y="133.65" font-size="4.6" text-anchor="end" font-weight="bold" fill="#111" stroke="#111" stroke-width="0.21">0</text>
<line x1="436.4" y1="116.55" x2="438.2" y2="116.55" stroke="#707070" stroke-width="0.6"/>
<text x="435.6" y="118.2" font-size="4.6" text-anchor="end" font-weight="bold" fill="#111" stroke="#111" stroke-width="0.21">200</text>
<line x1="436.4" y1="101.1" x2="438.2" y2="101.1" stroke="#707070" stroke-width="0.6"/>
<text x="435.6" y="102.75" font-size="4.6" text-anchor="end" font-weight="bold" fill="#111" stroke="#111" stroke-width="0.21">400</text>
<line x1="436.4" y1="85.65" x2="438.2" y2="85.65" stroke="#707070" stroke-width="0.6"/>
<text x="435.6" y="87.3" font-size="4.6" text-anchor="end" font-weight="bold" fill="#111" stroke="#111" stroke-width="0.21">600</text>
<line x1="436.4" y1="70.2" x2="438.2" y2="70.2" stroke="#707070" stroke-width="0.6"/>
<text x="435.6" y="71.85" font-size="4.6" text-anchor="end" font-weight="bold" fill="#111" stroke="#111" stroke-width="0.21">800</text>
<line x1="436.4" y1="54.75" x2="438.2" y2="54.75" stroke="#707070" stroke-width="0.6"/>
<text x="435.6" y="56.4" font-size="4.6" text-anchor="end" font-weight="bold" fill="#111" stroke="#111" stroke-width="0.21">1,000</text>
<line x1="436.4" y1="39.3" x2="438.2" y2="39.3" stroke="#707070" stroke-width="0.6"/>
<text x="435.6" y="40.95" font-size="4.6" text-anchor="end" font-weight="bold" fill="#111" stroke="#111" stroke-width="0.21">1,200</text>
<line x1="436.4" y1="23.85" x2="438.2" y2="23.85" stroke="#707070" stroke-width="0.6"/>
<text x="435.6" y="25.5" font-size="4.6" text-anchor="end" font-weight="bold" fill="#111" stroke="#111" stroke-width="0.21">1,400</text>
<text x="420.4" y="86.3" font-size="6.6" text-anchor="middle" font-weight="bold" fill="#111" stroke="#111" stroke-width="0.3" transform="rotate(-90 420.4 86.3)" textLength="41.5" lengthAdjust="spacingAndGlyphs">IFNγ (pg/mL)</text>
<rect x="443" y="98.2" width="9.8" height="33.8" fill="#ffffff" stroke="#4a4a4a" stroke-width="0.8"/>
<line x1="447.9" y1="95.4" x2="447.9" y2="101" stroke="#3c3c3c" stroke-width="0.65"/>
<line x1="445.2" y1="95.4" x2="450.6" y2="95.4" stroke="#3c3c3c" stroke-width="0.65"/>
<line x1="445.2" y1="101" x2="450.6" y2="101" stroke="#3c3c3c" stroke-width="0.65"/>
<line x1="447.9" y1="132" x2="447.9" y2="133.8" stroke="#707070" stroke-width="0.6"/>
<rect x="457.5" y="90.6" width="9.8" height="41.4" fill="#d6d6d6" stroke="#4a4a4a" stroke-width="0.8"/>
<line x1="462.4" y1="88.5" x2="462.4" y2="92.4" stroke="#3c3c3c" stroke-width="0.65"/>
<line x1="459.7" y1="88.5" x2="465.1" y2="88.5" stroke="#3c3c3c" stroke-width="0.65"/>
<line x1="459.7" y1="92.4" x2="465.1" y2="92.4" stroke="#3c3c3c" stroke-width="0.65"/>
<line x1="462.4" y1="132" x2="462.4" y2="133.8" stroke="#707070" stroke-width="0.6"/>
<rect x="472.3" y="77.4" width="9.8" height="54.6" fill="#aaaaaa" stroke="#4a4a4a" stroke-width="0.8"/>
<line x1="477.2" y1="62.4" x2="477.2" y2="92.4" stroke="#3c3c3c" stroke-width="0.65"/>
<line x1="474.5" y1="62.4" x2="479.9" y2="62.4" stroke="#3c3c3c" stroke-width="0.65"/>
<line x1="474.5" y1="92.4" x2="479.9" y2="92.4" stroke="#3c3c3c" stroke-width="0.65"/>
<line x1="477.2" y1="132" x2="477.2" y2="133.8" stroke="#707070" stroke-width="0.6"/>
<rect x="486.7" y="43.9" width="9.7" height="88.1" fill="#7c7c7c" stroke="#4a4a4a" stroke-width="0.8"/>
<line x1="491.55" y1="37" x2="491.55" y2="51.3" stroke="#3c3c3c" stroke-width="0.65"/>
<line x1="488.85" y1="37" x2="494.25" y2="37" stroke="#3c3c3c" stroke-width="0.65"/>
<line x1="488.85" y1="51.3" x2="494.25" y2="51.3" stroke="#3c3c3c" stroke-width="0.65"/>
<line x1="491.55" y1="132" x2="491.55" y2="133.8" stroke="#707070" stroke-width="0.6"/>
<line x1="438.2" y1="132" x2="497.8" y2="132" stroke="#707070" stroke-width="0.7"/>
<line x1="438.2" y1="77.4" x2="497" y2="77.4" stroke="#3c3c3c" stroke-width="0.55" stroke-dasharray="2.2 0.8 0.7 0.8"/>
<line x1="438.2" y1="88.3" x2="497" y2="88.3" stroke="#3c3c3c" stroke-width="0.55" stroke-dasharray="2.2 0.8 0.7 0.8"/>
<line x1="438.2" y1="98.3" x2="497" y2="98.3" stroke="#3c3c3c" stroke-width="0.55" stroke-dasharray="2.2 0.8 0.7 0.8"/>
<text x="500" y="77.4" font-size="4.9" text-anchor="start" font-weight="bold" fill="#111" stroke="#111" stroke-width="0.22" textLength="17.4" lengthAdjust="spacingAndGlyphs">α-TIGIT</text>
<text x="500" y="88.9" font-size="4.9" text-anchor="start" font-weight="bold" fill="#111" stroke="#111" stroke-width="0.22" textLength="18.8" lengthAdjust="spacingAndGlyphs">α-PVRIG</text>
<text x="500" y="99.3" font-size="4.9" text-anchor="start" font-weight="bold" fill="#111" stroke="#111" stroke-width="0.22" textLength="17.2" lengthAdjust="spacingAndGlyphs">α-CD96</text>
<text x="464.2" y="86.4" font-size="4.6" text-anchor="middle" font-weight="bold" fill="#111" stroke="#111" stroke-width="0.21">23%</text>
<text x="478.6" y="61" font-size="4.6" text-anchor="middle" font-weight="bold" fill="#111" stroke="#111" stroke-width="0.21">62%</text>
<text x="492.4" y="35.8" font-size="4.6" text-anchor="middle" font-weight="bold" fill="#111" stroke="#111" stroke-width="0.21">160%</text>
<text x="450" y="140.2" font-size="5" text-anchor="end" font-weight="bold" fill="#111" stroke="#111" stroke-width="0.22" transform="rotate(-43 450 140.2)" textLength="18.4" lengthAdjust="spacingAndGlyphs">Isotype</text>
<text x="464.4" y="140.2" font-size="5" text-anchor="end" font-weight="bold" fill="#111" stroke="#111" stroke-width="0.22" transform="rotate(-43 464.4 140.2)">α-PVRIG + α-CD96</text>
<text x="479" y="140.2" font-size="5" text-anchor="end" font-weight="bold" fill="#111" stroke="#111" stroke-width="0.22" transform="rotate(-43 479 140.2)">α-TIGIT + α-CD96</text>
<text x="493.2" y="140.2" font-size="5" text-anchor="end" font-weight="bold" fill="#111" stroke="#111" stroke-width="0.22" transform="rotate(-43 493.2 140.2)">α-PVRIG + α-TIGIT</text>
<line x1="32" y1="296.6" x2="32" y2="435.2" stroke="#707070" stroke-width="0.7"/>
<line x1="30.2" y1="435.2" x2="32" y2="435.2" stroke="#707070" stroke-width="0.6"/>
<text x="29.6" y="437.15" font-size="5.6" text-anchor="end" font-weight="bold" fill="#111" stroke="#111" stroke-width="0.25">100</text>
<line x1="30.2" y1="418" x2="32" y2="418" stroke="#707070" stroke-width="0.6"/>
<text x="29.6" y="419.95" font-size="5.6" text-anchor="end" font-weight="bold" fill="#111" stroke="#111" stroke-width="0.25">200</text>
<line x1="30.2" y1="400.8" x2="32" y2="400.8" stroke="#707070" stroke-width="0.6"/>
<text x="29.6" y="402.75" font-size="5.6" text-anchor="end" font-weight="bold" fill="#111" stroke="#111" stroke-width="0.25">300</text>
<line x1="30.2" y1="383.6" x2="32" y2="383.6" stroke="#707070" stroke-width="0.6"/>
<text x="29.6" y="385.55" font-size="5.6" text-anchor="end" font-weight="bold" fill="#111" stroke="#111" stroke-width="0.25">400</text>
<line x1="30.2" y1="366.4" x2="32" y2="366.4" stroke="#707070" stroke-width="0.6"/>
<text x="29.6" y="368.35" font-size="5.6" text-anchor="end" font-weight="bold" fill="#111" stroke="#111" stroke-width="0.25">500</text>
<line x1="30.2" y1="349.2" x2="32" y2="349.2" stroke="#707070" stroke-width="0.6"/>
<text x="29.6" y="351.15" font-size="5.6" text-anchor="end" font-weight="bold" fill="#111" stroke="#111" stroke-width="0.25">600</text>
<line x1="30.2" y1="332" x2="32" y2="332" stroke="#707070" stroke-width="0.6"/>
<text x="29.6" y="333.95" font-size="5.6" text-anchor="end" font-weight="bold" fill="#111" stroke="#111" stroke-width="0.25">700</text>
<line x1="30.2" y1="314.8" x2="32" y2="314.8" stroke="#707070" stroke-width="0.6"/>
<text x="29.6" y="316.75" font-size="5.6" text-anchor="end" font-weight="bold" fill="#111" stroke="#111" stroke-width="0.25">800</text>
<line x1="30.2" y1="297.6" x2="32" y2="297.6" stroke="#707070" stroke-width="0.6"/>
<text x="29.6" y="299.55" font-size="5.6" text-anchor="end" font-weight="bold" fill="#111" stroke="#111" stroke-width="0.25">900</text>
<line x1="32" y1="435.2" x2="98.6" y2="435.2" stroke="#707070" stroke-width="0.7"/>
<line x1="42.3" y1="435.2" x2="42.3" y2="437" stroke="#707070" stroke-width="0.6"/>
<line x1="58" y1="435.2" x2="58" y2="437" stroke="#707070" stroke-width="0.6"/>
<line x1="73.8" y1="435.2" x2="73.8" y2="437" stroke="#707070" stroke-width="0.6"/>
<line x1="89.6" y1="435.2" x2="89.6" y2="437" stroke="#707070" stroke-width="0.6"/>
<text x="64.6" y="261.9" font-size="7.8" text-anchor="middle" font-weight="bold" fill="#111" stroke="#111" stroke-width="0.35" textLength="27.8" lengthAdjust="spacingAndGlyphs">Mel-624</text>
<text x="9.8" y="365.8" font-size="6.8" text-anchor="middle" font-weight="bold" fill="#111" stroke="#111" stroke-width="0.31" transform="rotate(-90 9.8 365.8)" textLength="40.4" lengthAdjust="spacingAndGlyphs">IFNγ (pg/mL)</text>
<text x="43.5" y="444.2" font-size="5.1" text-anchor="end" font-weight="bold" fill="#111" stroke="#111" stroke-width="0.23" transform="rotate(-43 43.5 444.2)">Isotype</text>
<text x="59.2" y="444.2" font-size="5.1" text-anchor="end" font-weight="bold" fill="#111" stroke="#111" stroke-width="0.23" transform="rotate(-43 59.2 444.2)">α-PVRIG</text>
<text x="75" y="444.2" font-size="5.1" text-anchor="end" font-weight="bold" fill="#111" stroke="#111" stroke-width="0.23" transform="rotate(-43 75 444.2)">α-TIGIT</text>
<text x="90.8" y="444.2" font-size="5.1" text-anchor="end" font-weight="bold" fill="#111" stroke="#111" stroke-width="0.23" transform="rotate(-43 90.8 444.2)">α-PVRIG + α-TIGIT</text>
<polyline points="41.1,279.4 41.1,276.6 89.4,276.6 89.4,279.4" fill="none" stroke="#5e5e5e" stroke-width="0.85"/>
<text x="65.25" y="277.3" font-size="7.6" text-anchor="middle" font-weight="bold" fill="#222" stroke="#222" stroke-width="0.34" letter-spacing="1">*</text>
<polyline points="41.1,287.5 41.1,284.7 73.5,284.7 73.5,287.5" fill="none" stroke="#5e5e5e" stroke-width="0.85"/>
<text x="57.3" y="285.4" font-size="7.6" text-anchor="middle" font-weight="bold" fill="#222" stroke="#222" stroke-width="0.34" letter-spacing="1">*</text>
<polyline points="41.1,295.1 41.1,292.3 57.1,292.3 57.1,295.1" fill="none" stroke="#5e5e5e" stroke-width="0.85"/>
<text x="49.1" y="293" font-size="7.6" text-anchor="middle" font-weight="bold" fill="#222" stroke="#222" stroke-width="0.34" letter-spacing="1">*</text>
<polyline points="42.3,427.46 58,426.08 73.8,391.68 89.6,392.2" fill="none" stroke="#424242" stroke-width="0.7"/>
<rect x="39.8" y="424.96" width="5" height="5" fill="none" stroke="#424242" stroke-width="0.8"/>
<rect x="55.5" y="423.58" width="5" height="5" fill="none" stroke="#424242" stroke-width="0.8"/>
<rect x="71.3" y="389.18" width="5" height="5" fill="none" stroke="#424242" stroke-width="0.8"/>
<rect x="87.1" y="389.7" width="5" height="5" fill="none" stroke="#424242" stroke-width="0.8"/>
<polyline points="42.3,420.24 58,411.12 73.8,407.34 89.6,403.04" fill="none" stroke="#424242" stroke-width="0.7"/>
<polygon points="42.3,417.84 44.7,420.24 42.3,422.64 39.9,420.24" fill="none" stroke="#424242" stroke-width="0.8"/>
<polygon points="58,408.72 60.4,411.12 58,413.52 55.6,411.12" fill="none" stroke="#424242" stroke-width="0.8"/>
<polygon points="73.8,404.94 76.2,407.34 73.8,409.74 71.4,407.34" fill="none" stroke="#424242" stroke-width="0.8"/>
<polygon points="89.6,400.64 92,403.04 89.6,405.44 87.2,403.04" fill="none" stroke="#424242" stroke-width="0.8"/>
<polyline points="42.3,410.26 58,385.84 73.8,368.12 89.6,358.14" fill="none" stroke="#424242" stroke-width="0.7"/>
<polygon points="42.3,407.56 45,410.26 42.3,412.96 39.6,410.26" fill="none" stroke="#424242" stroke-width="0.8"/>
<polygon points="58,383.14 60.7,385.84 58,388.54 55.3,385.84" fill="none" stroke="#424242" stroke-width="0.8"/>
<polygon points="73.8,365.42 76.5,368.12 73.8,370.82 71.1,368.12" fill="none" stroke="#424242" stroke-width="0.8"/>
<polygon points="89.6,355.44 92.3,358.14 89.6,360.84 86.9,358.14" fill="none" stroke="#424242" stroke-width="0.8"/>
<polyline points="42.3,392.2 58,373.28 73.8,351.44 89.6,323.4" fill="none" stroke="#424242" stroke-width="0.7"/>
<polygon points="42.3,389.18 45.1,394.22 39.5,394.22" fill="none" stroke="#424242" stroke-width="0.8"/>
<polygon points="58,370.26 60.8,375.3 55.2,375.3" fill="none" stroke="#424242" stroke-width="0.8"/>
<polygon points="73.8,348.41 76.6,353.45 71,353.45" fill="none" stroke="#424242" stroke-width="0.8"/>
<polygon points="89.6,320.38 92.4,325.42 86.8,325.42" fill="none" stroke="#424242" stroke-width="0.8"/>
<polyline points="42.3,423.68 58,400.28 73.8,341.46 89.6,306.72" fill="none" stroke="#424242" stroke-width="0.7"/>
<circle cx="42.3" cy="423.68" r="2.7" fill="#a4a4a4" stroke="#424242" stroke-width="0.8"/>
<circle cx="58" cy="400.28" r="2.7" fill="#a4a4a4" stroke="#424242" stroke-width="0.8"/>
<circle cx="73.8" cy="341.46" r="2.7" fill="#a4a4a4" stroke="#424242" stroke-width="0.8"/>
<circle cx="89.6" cy="306.72" r="2.7" fill="#a4a4a4" stroke="#424242" stroke-width="0.8"/>
<line x1="137.1" y1="296.2" x2="137.1" y2="436" stroke="#707070" stroke-width="0.7"/>
<line x1="135.3" y1="436" x2="137.1" y2="436" stroke="#707070" stroke-width="0.6"/>
<text x="134.7" y="437.95" font-size="5.6" text-anchor="end" font-weight="bold" fill="#111" stroke="#111" stroke-width="0.25">0</text>
<line x1="135.3" y1="412.85" x2="137.1" y2="412.85" stroke="#707070" stroke-width="0.6"/>
<text x="134.7" y="414.8" font-size="5.6" text-anchor="end" font-weight="bold" fill="#111" stroke="#111" stroke-width="0.25">200</text>
<line x1="135.3" y1="389.7" x2="137.1" y2="389.7" stroke="#707070" stroke-width="0.6"/>
<text x="134.7" y="391.65" font-size="5.6" text-anchor="end" font-weight="bold" fill="#111" stroke="#111" stroke-width="0.25">400</text>
<line x1="135.3" y1="366.55" x2="137.1" y2="366.55" stroke="#707070" stroke-width="0.6"/>
<text x="134.7" y="368.5" font-size="5.6" text-anchor="end" font-weight="bold" fill="#111" stroke="#111" stroke-width="0.25">600</text>
<line x1="135.3" y1="343.4" x2="137.1" y2="343.4" stroke="#707070" stroke-width="0.6"/>
<text x="134.7" y="345.35" font-size="5.6" text-anchor="end" font-weight="bold" fill="#111" stroke="#111" stroke-width="0.25">800</text>
<line x1="135.3" y1="320.25" x2="137.1" y2="320.25" stroke="#707070" stroke-width="0.6"/>
<text x="134.7" y="322.2" font-size="5.6" text-anchor="end" font-weight="bold" fill="#111" stroke="#111" stroke-width="0.25">1,000</text>
<line x1="135.3" y1="297.1" x2="137.1" y2="297.1" stroke="#707070" stroke-width="0.6"/>
<text x="134.7" y="299.05" font-size="5.6" text-anchor="end" font-weight="bold" fill="#111" stroke="#111" stroke-width="0.25">1,200</text>
<line x1="137.1" y1="436" x2="205.5" y2="436" stroke="#707070" stroke-width="0.7"/>
<line x1="147.9" y1="436" x2="147.9" y2="437.8" stroke="#707070" stroke-width="0.6"/>
<line x1="163.6" y1="436" x2="163.6" y2="437.8" stroke="#707070" stroke-width="0.6"/>
<line x1="179.4" y1="436" x2="179.4" y2="437.8" stroke="#707070" stroke-width="0.6"/>
<line x1="195.6" y1="436" x2="195.6" y2="437.8" stroke="#707070" stroke-width="0.6"/>
<text x="172" y="261.6" font-size="7.8" text-anchor="middle" font-weight="bold" fill="#111" stroke="#111" stroke-width="0.35" textLength="37" lengthAdjust="spacingAndGlyphs">Panc.05.04</text>
<text x="115.8" y="365.8" font-size="6.8" text-anchor="middle" font-weight="bold" fill="#111" stroke="#111" stroke-width="0.31" transform="rotate(-90 115.8 365.8)" textLength="40.4" lengthAdjust="spacingAndGlyphs">IFNγ (pg/mL)</text>
<text x="148.7" y="445.2" font-size="5.1" text-anchor="end" font-weight="bold" fill="#111" stroke="#111" stroke-width="0.23" transform="rotate(-43 148.7 445.2)">Isotype</text>
<text x="164.4" y="445.2" font-size="5.1" text-anchor="end" font-weight="bold" fill="#111" stroke="#111" stroke-width="0.23" transform="rotate(-43 164.4 445.2)">α-PVRIG</text>
<text x="180.2" y="445.2" font-size="5.1" text-anchor="end" font-weight="bold" fill="#111" stroke="#111" stroke-width="0.23" transform="rotate(-43 180.2 445.2)">α-TIGIT</text>
<text x="196.4" y="445.2" font-size="5.1" text-anchor="end" font-weight="bold" fill="#111" stroke="#111" stroke-width="0.23" transform="rotate(-43 196.4 445.2)">α-PVRIG + α-TIGIT</text>
<polyline points="146.1,279.4 146.1,276.6 195.1,276.6 195.1,279.4" fill="none" stroke="#5e5e5e" stroke-width="0.85"/>
<text x="171.1" y="277.3" font-size="7.6" text-anchor="middle" font-weight="bold" fill="#222" stroke="#222" stroke-width="0.34" letter-spacing="1">**</text>
<polyline points="146.1,287.5 146.1,284.7 178.5,284.7 178.5,287.5" fill="none" stroke="#5e5e5e" stroke-width="0.85"/>
<text x="162.8" y="285.4" font-size="7.6" text-anchor="middle" font-weight="bold" fill="#222" stroke="#222" stroke-width="0.34" letter-spacing="1">**</text>
<polyline points="146.1,294.8 146.1,292 161.2,292 161.2,294.8" fill="none" stroke="#5e5e5e" stroke-width="0.85"/>
<text x="153.65" y="292.7" font-size="7.6" text-anchor="middle" font-weight="bold" fill="#222" stroke="#222" stroke-width="0.34" letter-spacing="1">*</text>
<polyline points="147.9,431.72 163.6,427.43 179.4,429.4 195.6,424.08" fill="none" stroke="#424242" stroke-width="0.7"/>
<polygon points="147.9,429.32 150.3,431.72 147.9,434.12 145.5,431.72" fill="none" stroke="#424242" stroke-width="0.8"/>
<polygon points="163.6,425.03 166,427.43 163.6,429.83 161.2,427.43" fill="none" stroke="#424242" stroke-width="0.8"/>
<polygon points="179.4,427 181.8,429.4 179.4,431.8 177,429.4" fill="none" stroke="#424242" stroke-width="0.8"/>
<polygon points="195.6,421.68 198,424.08 195.6,426.48 193.2,424.08" fill="none" stroke="#424242" stroke-width="0.8"/>
<polyline points="147.9,421.76 163.6,421.76 179.4,412.85 195.6,408.91" fill="none" stroke="#424242" stroke-width="0.7"/>
<circle cx="147.9" cy="421.76" r="2.6" fill="none" stroke="#424242" stroke-width="0.8"/>
<circle cx="163.6" cy="421.76" r="2.6" fill="none" stroke="#424242" stroke-width="0.8"/>
<circle cx="179.4" cy="412.85" r="2.6" fill="none" stroke="#424242" stroke-width="0.8"/>
<circle cx="195.6" cy="408.91" r="2.6" fill="none" stroke="#424242" stroke-width="0.8"/>
<polyline points="147.9,430.21 163.6,425 179.4,412.27 195.6,389.35" fill="none" stroke="#424242" stroke-width="0.7"/>
<rect x="145.4" y="427.71" width="5" height="5" fill="#a4a4a4" stroke="#424242" stroke-width="0.8"/>
<rect x="161.1" y="422.5" width="5" height="5" fill="#a4a4a4" stroke="#424242" stroke-width="0.8"/>
<rect x="176.9" y="409.77" width="5" height="5" fill="#a4a4a4" stroke="#424242" stroke-width="0.8"/>
<rect x="193.1" y="386.85" width="5" height="5" fill="#a4a4a4" stroke="#424242" stroke-width="0.8"/>
<polyline points="147.9,429.06 163.6,424.43 179.4,409.15 195.6,376.27" fill="none" stroke="#424242" stroke-width="0.7"/>
<circle cx="147.9" cy="429.06" r="2.6" fill="none" stroke="#424242" stroke-width="0.8"/>
<circle cx="163.6" cy="424.43" r="2.6" fill="none" stroke="#424242" stroke-width="0.8"/>
<circle cx="179.4" cy="409.15" r="2.6" fill="none" stroke="#424242" stroke-width="0.8"/>
<circle cx="195.6" cy="376.27" r="2.6" fill="none" stroke="#424242" stroke-width="0.8"/>
<polyline points="147.9,427.43 163.6,422.69 179.4,404.52 195.6,382.52" fill="none" stroke="#424242" stroke-width="0.7"/>
<circle cx="147.9" cy="427.43" r="2.7" fill="#a4a4a4" stroke="#424242" stroke-width="0.8"/>
<circle cx="163.6" cy="422.69" r="2.7" fill="#a4a4a4" stroke="#424242" stroke-width="0.8"/>
<circle cx="179.4" cy="404.52" r="2.7" fill="#a4a4a4" stroke="#424242" stroke-width="0.8"/>
<circle cx="195.6" cy="382.52" r="2.7" fill="#a4a4a4" stroke="#424242" stroke-width="0.8"/>
<polyline points="147.9,398.03 163.6,381.83 179.4,370.49 195.6,344.33" fill="none" stroke="#424242" stroke-width="0.7"/>
<polygon points="147.9,401.06 150.7,396.02 145.1,396.02" fill="none" stroke="#424242" stroke-width="0.8"/>
<polygon points="163.6,384.85 166.4,379.81 160.8,379.81" fill="none" stroke="#424242" stroke-width="0.8"/>
<polygon points="179.4,373.51 182.2,368.47 176.6,368.47" fill="none" stroke="#424242" stroke-width="0.8"/>
<polygon points="195.6,347.35 198.4,342.31 192.8,342.31" fill="none" stroke="#424242" stroke-width="0.8"/>
<polyline points="147.9,406.14 163.6,396.64 179.4,357.52 195.6,312.15" fill="none" stroke="#424242" stroke-width="0.7"/>
<polygon points="147.9,403.11 150.7,408.15 145.1,408.15" fill="#a4a4a4" stroke="#424242" stroke-width="0.8"/>
<polygon points="163.6,393.62 166.4,398.66 160.8,398.66" fill="#a4a4a4" stroke="#424242" stroke-width="0.8"/>
<polygon points="179.4,354.5 182.2,359.54 176.6,359.54" fill="#a4a4a4" stroke="#424242" stroke-width="0.8"/>
<polygon points="195.6,309.12 198.4,314.16 192.8,314.16" fill="#a4a4a4" stroke="#424242" stroke-width="0.8"/>
<line x1="235.4" y1="296.8" x2="235.4" y2="435.9" stroke="#707070" stroke-width="0.7"/>
<line x1="233.6" y1="435.9" x2="235.4" y2="435.9" stroke="#707070" stroke-width="0.6"/>
<text x="233" y="437.85" font-size="5.6" text-anchor="end" font-weight="bold" fill="#111" stroke="#111" stroke-width="0.25">40</text>
<line x1="233.6" y1="401.34" x2="235.4" y2="401.34" stroke="#707070" stroke-width="0.6"/>
<text x="233" y="403.29" font-size="5.6" text-anchor="end" font-weight="bold" fill="#111" stroke="#111" stroke-width="0.25">60</text>
<line x1="233.6" y1="366.78" x2="235.4" y2="366.78" stroke="#707070" stroke-width="0.6"/>
<text x="233" y="368.73" font-size="5.6" text-anchor="end" font-weight="bold" fill="#111" stroke="#111" stroke-width="0.25">80</text>
<line x1="233.6" y1="332.22" x2="235.4" y2="332.22" stroke="#707070" stroke-width="0.6"/>
<text x="233" y="334.17" font-size="5.6" text-anchor="end" font-weight="bold" fill="#111" stroke="#111" stroke-width="0.25">100</text>
<line x1="233.6" y1="297.66" x2="235.4" y2="297.66" stroke="#707070" stroke-width="0.6"/>
<text x="233" y="299.61" font-size="5.6" text-anchor="end" font-weight="bold" fill="#111" stroke="#111" stroke-width="0.25">120</text>
<line x1="235.4" y1="435.9" x2="304" y2="435.9" stroke="#707070" stroke-width="0.7"/>
<line x1="246.1" y1="435.9" x2="246.1" y2="437.7" stroke="#707070" stroke-width="0.6"/>
<line x1="261.6" y1="435.9" x2="261.6" y2="437.7" stroke="#707070" stroke-width="0.6"/>
<line x1="277.3" y1="435.9" x2="277.3" y2="437.7" stroke="#707070" stroke-width="0.6"/>
<line x1="293.6" y1="435.9" x2="293.6" y2="437.7" stroke="#707070" stroke-width="0.6"/>
<text x="268.2" y="261.2" font-size="7.8" text-anchor="middle" font-weight="bold" fill="#111" stroke="#111" stroke-width="0.35" textLength="27.8" lengthAdjust="spacingAndGlyphs">Mel-624</text>
<text x="217.4" y="365.8" font-size="6.6" text-anchor="middle" font-weight="bold" fill="#111" stroke="#111" stroke-width="0.3" transform="rotate(-90 217.4 365.8)" textLength="21" lengthAdjust="spacingAndGlyphs">% Live</text>
<text x="247.1" y="445.1" font-size="5.1" text-anchor="end" font-weight="bold" fill="#111" stroke="#111" stroke-width="0.23" transform="rotate(-43 247.1 445.1)">Isotype</text>
<text x="262.6" y="445.1" font-size="5.1" text-anchor="end" font-weight="bold" fill="#111" stroke="#111" stroke-width="0.23" transform="rotate(-43 262.6 445.1)">α-PVRIG</text>
<text x="278.3" y="445.1" font-size="5.1" text-anchor="end" font-weight="bold" fill="#111" stroke="#111" stroke-width="0.23" transform="rotate(-43 278.3 445.1)">α-TIGIT</text>
<text x="294.6" y="445.1" font-size="5.1" text-anchor="end" font-weight="bold" fill="#111" stroke="#111" stroke-width="0.23" transform="rotate(-43 294.6 445.1)">α-PVRIG + α-TIGIT</text>
<polyline points="243.9,277.9 243.9,273.9 297.7,273.9 297.7,277.9" fill="none" stroke="#5e5e5e" stroke-width="0.85"/>
<text x="271.3" y="275.9" font-size="7.6" text-anchor="middle" font-weight="bold" fill="#222" stroke="#222" stroke-width="0.34" letter-spacing="1">***</text>
<polyline points="243.9,288.5 243.9,284.5 283.2,284.5 283.2,288.5" fill="none" stroke="#5e5e5e" stroke-width="0.85"/>
<text x="263.55" y="286.5" font-size="7.6" text-anchor="middle" font-weight="bold" fill="#222" stroke="#222" stroke-width="0.34" letter-spacing="1">*</text>
<polyline points="243.9,298.6 243.9,294.6 266.3,294.6 266.3,298.6" fill="none" stroke="#5e5e5e" stroke-width="0.85"/>
<text x="255.6" y="296.6" font-size="7.6" text-anchor="middle" font-weight="bold" fill="#222" stroke="#222" stroke-width="0.34" letter-spacing="1">**</text>
<polyline points="246.1,332.22 261.6,370.24 277.3,404.62 293.6,414.82" fill="none" stroke="#424242" stroke-width="0.7"/>
<circle cx="246.1" cy="332.22" r="2.45" fill="none" stroke="#424242" stroke-width="0.8"/>
<rect x="259.25" y="367.89" width="4.7" height="4.7" fill="none" stroke="#424242" stroke-width="0.8"/>
<polygon points="277.3,401.76 279.95,406.53 274.65,406.53" fill="none" stroke="#424242" stroke-width="0.8"/>
<polygon points="293.6,412.32 296.1,414.82 293.6,417.32 291.1,414.82" fill="none" stroke="#424242" stroke-width="0.8"/>
<polyline points="246.1,338.27 261.6,366.09 277.3,388.21 293.6,414.47" fill="none" stroke="#424242" stroke-width="0.7"/>
<circle cx="246.1" cy="338.27" r="2.45" fill="none" stroke="#424242" stroke-width="0.8"/>
<rect x="259.25" y="363.74" width="4.7" height="4.7" fill="none" stroke="#424242" stroke-width="0.8"/>
<polygon points="277.3,385.35 279.95,390.12 274.65,390.12" fill="none" stroke="#424242" stroke-width="0.8"/>
<polygon points="293.6,411.97 296.1,414.47 293.6,416.97 291.1,414.47" fill="none" stroke="#424242" stroke-width="0.8"/>
<polyline points="246.1,332.22 261.6,360.21 277.3,366.09 293.6,412.23" fill="none" stroke="#424242" stroke-width="0.7"/>
<circle cx="246.1" cy="332.22" r="2.45" fill="none" stroke="#424242" stroke-width="0.8"/>
<rect x="259.25" y="357.86" width="4.7" height="4.7" fill="none" stroke="#424242" stroke-width="0.8"/>
<polygon points="277.3,363.23 279.95,368 274.65,368" fill="none" stroke="#424242" stroke-width="0.8"/>
<polygon points="293.6,409.73 296.1,412.23 293.6,414.73 291.1,412.23" fill="none" stroke="#424242" stroke-width="0.8"/>
<line x1="334.2" y1="297.2" x2="334.2" y2="436.4" stroke="#707070" stroke-width="0.7"/>
<line x1="332.4" y1="436.4" x2="334.2" y2="436.4" stroke="#707070" stroke-width="0.6"/>
<text x="331.8" y="438.35" font-size="5.6" text-anchor="end" font-weight="bold" fill="#111" stroke="#111" stroke-width="0.25">40</text>
<line x1="332.4" y1="401.84" x2="334.2" y2="401.84" stroke="#707070" stroke-width="0.6"/>
<text x="331.8" y="403.79" font-size="5.6" text-anchor="end" font-weight="bold" fill="#111" stroke="#111" stroke-width="0.25">60</text>
<line x1="332.4" y1="367.28" x2="334.2" y2="367.28" stroke="#707070" stroke-width="0.6"/>
<text x="331.8" y="369.23" font-size="5.6" text-anchor="end" font-weight="bold" fill="#111" stroke="#111" stroke-width="0.25">80</text>
<line x1="332.4" y1="332.72" x2="334.2" y2="332.72" stroke="#707070" stroke-width="0.6"/>
<text x="331.8" y="334.67" font-size="5.6" text-anchor="end" font-weight="bold" fill="#111" stroke="#111" stroke-width="0.25">100</text>
<line x1="332.4" y1="298.16" x2="334.2" y2="298.16" stroke="#707070" stroke-width="0.6"/>
<text x="331.8" y="300.11" font-size="5.6" text-anchor="end" font-weight="bold" fill="#111" stroke="#111" stroke-width="0.25">120</text>
<line x1="334.2" y1="436.4" x2="402.5" y2="436.4" stroke="#707070" stroke-width="0.7"/>
<line x1="344.3" y1="436.4" x2="344.3" y2="438.2" stroke="#707070" stroke-width="0.6"/>
<line x1="359.9" y1="436.4" x2="359.9" y2="438.2" stroke="#707070" stroke-width="0.6"/>
<line x1="375.9" y1="436.4" x2="375.9" y2="438.2" stroke="#707070" stroke-width="0.6"/>
<line x1="391.7" y1="436.4" x2="391.7" y2="438.2" stroke="#707070" stroke-width="0.6"/>
<text x="367" y="261" font-size="7.8" text-anchor="middle" font-weight="bold" fill="#111" stroke="#111" stroke-width="0.35" textLength="37" lengthAdjust="spacingAndGlyphs">Panc.05.04</text>
<text x="316" y="365.8" font-size="6.6" text-anchor="middle" font-weight="bold" fill="#111" stroke="#111" stroke-width="0.3" transform="rotate(-90 316 365.8)" textLength="21" lengthAdjust="spacingAndGlyphs">% Live</text>
<text x="345.6" y="446" font-size="5.1" text-anchor="end" font-weight="bold" fill="#111" stroke="#111" stroke-width="0.23" transform="rotate(-43 345.6 446)">Isotype</text>
<text x="361.2" y="446" font-size="5.1" text-anchor="end" font-weight="bold" fill="#111" stroke="#111" stroke-width="0.23" transform="rotate(-43 361.2 446)">α-PVRIG</text>
<text x="377.2" y="446" font-size="5.1" text-anchor="end" font-weight="bold" fill="#111" stroke="#111" stroke-width="0.23" transform="rotate(-43 377.2 446)">α-TIGIT</text>
<text x="393" y="446" font-size="5.1" text-anchor="end" font-weight="bold" fill="#111" stroke="#111" stroke-width="0.23" transform="rotate(-43 393 446)">α-PVRIG + α-TIGIT</text>
<polyline points="342.7,276.9 342.7,273.1 395.9,273.1 395.9,276.9" fill="none" stroke="#5e5e5e" stroke-width="0.85"/>
<text x="369.3" y="274" font-size="6.4" text-anchor="middle" font-weight="bold" fill="#222" stroke="#222" stroke-width="0.29" letter-spacing="1">*</text>
<polyline points="342.7,287.7 342.7,283.9 377.4,283.9 377.4,287.7" fill="none" stroke="#5e5e5e" stroke-width="0.85"/>
<text x="360.05" y="282.6" font-size="4.4" text-anchor="middle" font-weight="bold" fill="#333" stroke="#333" stroke-width="0.2">ns</text>
<polyline points="342.7,297.6 342.7,293.8 361.4,293.8 361.4,297.6" fill="none" stroke="#5e5e5e" stroke-width="0.85"/>
<text x="352.05" y="292.8" font-size="4.4" text-anchor="middle" font-weight="bold" fill="#333" stroke="#333" stroke-width="0.2">ns</text>
<polyline points="344.3,341.36 359.9,350 375.9,386.29 391.7,385.42" fill="none" stroke="#424242" stroke-width="0.7"/>
<circle cx="344.3" cy="341.36" r="2.6" fill="none" stroke="#424242" stroke-width="0.8"/>
<rect x="357.4" y="347.5" width="5" height="5" fill="none" stroke="#424242" stroke-width="0.8"/>
<polygon points="375.9,383.26 378.7,388.3 373.1,388.3" fill="none" stroke="#424242" stroke-width="0.8"/>
<polygon points="391.7,382.92 394.2,385.42 391.7,387.92 389.2,385.42" fill="none" stroke="#424242" stroke-width="0.8"/>
<polyline points="344.3,306.45 359.9,350 375.9,413.94 391.7,408.75" fill="none" stroke="#424242" stroke-width="0.7"/>
<circle cx="344.3" cy="306.45" r="2.6" fill="none" stroke="#424242" stroke-width="0.8"/>
<rect x="357.4" y="347.5" width="5" height="5" fill="none" stroke="#424242" stroke-width="0.8"/>
<polygon points="375.9,410.91 378.7,415.95 373.1,415.95" fill="none" stroke="#424242" stroke-width="0.8"/>
<polygon points="391.7,406.25 394.2,408.75 391.7,411.25 389.2,408.75" fill="none" stroke="#424242" stroke-width="0.8"/>
<polyline points="344.3,313.71 359.9,371.6 375.9,413.24 391.7,427.24" fill="none" stroke="#424242" stroke-width="0.7"/>
<circle cx="344.3" cy="313.71" r="2.6" fill="none" stroke="#424242" stroke-width="0.8"/>
<rect x="357.4" y="369.1" width="5" height="5" fill="none" stroke="#424242" stroke-width="0.8"/>
<polygon points="375.9,410.22 378.7,415.26 373.1,415.26" fill="none" stroke="#424242" stroke-width="0.8"/>
<polygon points="391.7,424.74 394.2,427.24 391.7,429.74 389.2,427.24" fill="none" stroke="#424242" stroke-width="0.8"/>
</svg>
</body>
</html>
